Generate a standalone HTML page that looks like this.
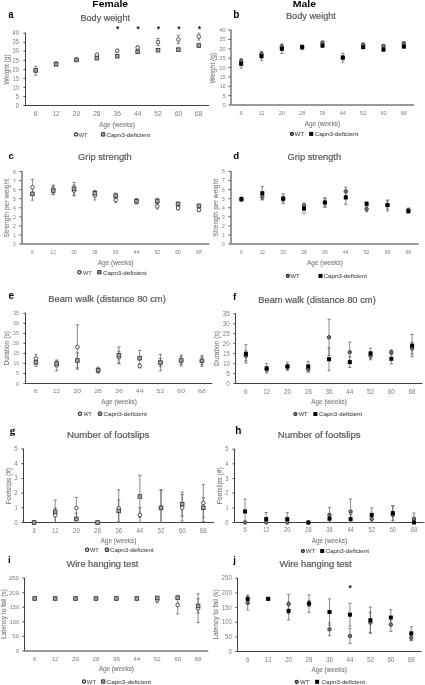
<!DOCTYPE html>
<html><head><meta charset="utf-8"><title>Figure</title>
<style>html,body{margin:0;padding:0;background:#fff;} svg{display:block;}</style>
</head><body>
<svg width="425" height="685" viewBox="0 0 425 685" font-family='"Liberation Sans", Arial, sans-serif'>
<rect width="425" height="685" fill="#fff"/>
<line x1="25.50" y1="32.70" x2="25.50" y2="106.00" stroke="#404040" stroke-width="1.0"/>
<line x1="25.00" y1="105.50" x2="209.00" y2="105.50" stroke="#404040" stroke-width="1.0"/>
<line x1="23.40" y1="105.50" x2="25.50" y2="105.50" stroke="#404040" stroke-width="0.9"/>
<text x="19.00" y="107.70" font-size="6.5" fill="#7f7f7f" text-anchor="end" textLength="3.2" lengthAdjust="spacingAndGlyphs">0</text>
<line x1="23.40" y1="96.46" x2="25.50" y2="96.46" stroke="#404040" stroke-width="0.9"/>
<text x="19.00" y="98.66" font-size="6.5" fill="#7f7f7f" text-anchor="end" textLength="3.2" lengthAdjust="spacingAndGlyphs">5</text>
<line x1="23.40" y1="87.42" x2="25.50" y2="87.42" stroke="#404040" stroke-width="0.9"/>
<text x="19.00" y="89.62" font-size="6.5" fill="#7f7f7f" text-anchor="end" textLength="5.9" lengthAdjust="spacingAndGlyphs">10</text>
<line x1="23.40" y1="78.39" x2="25.50" y2="78.39" stroke="#404040" stroke-width="0.9"/>
<text x="19.00" y="80.59" font-size="6.5" fill="#7f7f7f" text-anchor="end" textLength="5.9" lengthAdjust="spacingAndGlyphs">15</text>
<line x1="23.40" y1="69.35" x2="25.50" y2="69.35" stroke="#404040" stroke-width="0.9"/>
<text x="19.00" y="71.55" font-size="6.5" fill="#7f7f7f" text-anchor="end" textLength="6.4" lengthAdjust="spacingAndGlyphs">20</text>
<line x1="23.40" y1="60.31" x2="25.50" y2="60.31" stroke="#404040" stroke-width="0.9"/>
<text x="19.00" y="62.51" font-size="6.5" fill="#7f7f7f" text-anchor="end" textLength="6.4" lengthAdjust="spacingAndGlyphs">25</text>
<line x1="23.40" y1="51.28" x2="25.50" y2="51.28" stroke="#404040" stroke-width="0.9"/>
<text x="19.00" y="53.48" font-size="6.5" fill="#7f7f7f" text-anchor="end" textLength="6.4" lengthAdjust="spacingAndGlyphs">30</text>
<line x1="23.40" y1="42.24" x2="25.50" y2="42.24" stroke="#404040" stroke-width="0.9"/>
<text x="19.00" y="44.44" font-size="6.5" fill="#7f7f7f" text-anchor="end" textLength="6.4" lengthAdjust="spacingAndGlyphs">35</text>
<line x1="23.40" y1="33.20" x2="25.50" y2="33.20" stroke="#404040" stroke-width="0.9"/>
<text x="19.00" y="35.40" font-size="6.5" fill="#7f7f7f" text-anchor="end" textLength="6.4" lengthAdjust="spacingAndGlyphs">40</text>
<text x="35.69" y="116.10" font-size="6.3" fill="#7f7f7f" text-anchor="middle" textLength="3.7" lengthAdjust="spacingAndGlyphs">6</text>
<text x="56.08" y="116.10" font-size="6.3" fill="#7f7f7f" text-anchor="middle" textLength="6.8" lengthAdjust="spacingAndGlyphs">12</text>
<text x="76.47" y="116.10" font-size="6.3" fill="#7f7f7f" text-anchor="middle" textLength="7.4" lengthAdjust="spacingAndGlyphs">20</text>
<text x="96.86" y="116.10" font-size="6.3" fill="#7f7f7f" text-anchor="middle" textLength="7.4" lengthAdjust="spacingAndGlyphs">28</text>
<text x="117.25" y="116.10" font-size="6.3" fill="#7f7f7f" text-anchor="middle" textLength="7.4" lengthAdjust="spacingAndGlyphs">36</text>
<text x="137.64" y="116.10" font-size="6.3" fill="#7f7f7f" text-anchor="middle" textLength="7.4" lengthAdjust="spacingAndGlyphs">44</text>
<text x="158.03" y="116.10" font-size="6.3" fill="#7f7f7f" text-anchor="middle" textLength="7.4" lengthAdjust="spacingAndGlyphs">52</text>
<text x="178.42" y="116.10" font-size="6.3" fill="#7f7f7f" text-anchor="middle" textLength="7.4" lengthAdjust="spacingAndGlyphs">60</text>
<text x="198.81" y="116.10" font-size="6.3" fill="#7f7f7f" text-anchor="middle" textLength="7.4" lengthAdjust="spacingAndGlyphs">68</text>
<text transform="translate(9.30,69.40) rotate(-90)" x="0" y="0" font-size="6.5" fill="#7f7f7f" text-anchor="middle" textLength="30.0" lengthAdjust="spacingAndGlyphs" stroke="#7f7f7f" stroke-width="0.12">Weight (g)</text>
<text x="99.30" y="126.80" font-size="6.5" fill="#7f7f7f" textLength="35.5" lengthAdjust="spacingAndGlyphs" stroke="#7f7f7f" stroke-width="0.12">Age (weeks)</text>
<text x="80.50" y="21.20" font-size="9.7" fill="#595959" textLength="49.5" lengthAdjust="spacingAndGlyphs" stroke="#595959" stroke-width="0.22">Body weight</text>
<text x="8.60" y="17.60" font-size="10.8" fill="#000" font-weight="bold" textLength="5.0" lengthAdjust="spacingAndGlyphs">a</text>
<circle cx="76.00" cy="134.40" r="1.6" fill="#fff" stroke="#333" stroke-width="1.2"/>
<text x="78.80" y="136.90" font-size="6.2" fill="#595959" textLength="8.7" lengthAdjust="spacingAndGlyphs" stroke="#595959" stroke-width="0.12">WT</text>
<rect x="101.40" y="132.70" width="3.4" height="3.4" rx="0.3" fill="#9a9a9a" stroke="#333" stroke-width="1.0"/>
<text x="106.40" y="136.90" font-size="6.2" fill="#595959" textLength="43.7" lengthAdjust="spacingAndGlyphs" stroke="#595959" stroke-width="0.12">Capn3-deficient</text>
<line x1="35.69" y1="66.28" x2="35.69" y2="75.31" stroke="#595959" stroke-width="0.7"/>
<line x1="34.09" y1="66.28" x2="37.29" y2="66.28" stroke="#595959" stroke-width="0.7"/>
<line x1="34.09" y1="75.31" x2="37.29" y2="75.31" stroke="#595959" stroke-width="0.7"/>
<line x1="56.08" y1="62.12" x2="56.08" y2="65.01" stroke="#595959" stroke-width="0.7"/>
<line x1="54.48" y1="62.12" x2="57.68" y2="62.12" stroke="#595959" stroke-width="0.7"/>
<line x1="54.48" y1="65.01" x2="57.68" y2="65.01" stroke="#595959" stroke-width="0.7"/>
<line x1="76.47" y1="58.32" x2="76.47" y2="60.85" stroke="#595959" stroke-width="0.7"/>
<line x1="74.87" y1="58.32" x2="78.07" y2="58.32" stroke="#595959" stroke-width="0.7"/>
<line x1="74.87" y1="60.85" x2="78.07" y2="60.85" stroke="#595959" stroke-width="0.7"/>
<line x1="96.86" y1="53.26" x2="96.86" y2="56.16" stroke="#595959" stroke-width="0.7"/>
<line x1="95.26" y1="53.26" x2="98.46" y2="53.26" stroke="#595959" stroke-width="0.7"/>
<line x1="95.26" y1="56.16" x2="98.46" y2="56.16" stroke="#595959" stroke-width="0.7"/>
<line x1="117.25" y1="49.29" x2="117.25" y2="52.18" stroke="#595959" stroke-width="0.7"/>
<line x1="115.65" y1="49.29" x2="118.85" y2="49.29" stroke="#595959" stroke-width="0.7"/>
<line x1="115.65" y1="52.18" x2="118.85" y2="52.18" stroke="#595959" stroke-width="0.7"/>
<line x1="137.64" y1="46.03" x2="137.64" y2="49.29" stroke="#595959" stroke-width="0.7"/>
<line x1="136.04" y1="46.03" x2="139.24" y2="46.03" stroke="#595959" stroke-width="0.7"/>
<line x1="136.04" y1="49.29" x2="139.24" y2="49.29" stroke="#595959" stroke-width="0.7"/>
<line x1="158.03" y1="38.44" x2="158.03" y2="45.67" stroke="#595959" stroke-width="0.7"/>
<line x1="156.43" y1="38.44" x2="159.63" y2="38.44" stroke="#595959" stroke-width="0.7"/>
<line x1="156.43" y1="45.67" x2="159.63" y2="45.67" stroke="#595959" stroke-width="0.7"/>
<line x1="178.42" y1="35.37" x2="178.42" y2="43.68" stroke="#595959" stroke-width="0.7"/>
<line x1="176.82" y1="35.37" x2="180.02" y2="35.37" stroke="#595959" stroke-width="0.7"/>
<line x1="176.82" y1="43.68" x2="180.02" y2="43.68" stroke="#595959" stroke-width="0.7"/>
<line x1="198.81" y1="33.20" x2="198.81" y2="40.07" stroke="#595959" stroke-width="0.7"/>
<line x1="197.21" y1="33.20" x2="200.41" y2="33.20" stroke="#595959" stroke-width="0.7"/>
<line x1="197.21" y1="40.07" x2="200.41" y2="40.07" stroke="#595959" stroke-width="0.7"/>
<line x1="35.69" y1="68.45" x2="35.69" y2="72.06" stroke="#595959" stroke-width="0.7"/>
<line x1="34.09" y1="68.45" x2="37.29" y2="68.45" stroke="#595959" stroke-width="0.7"/>
<line x1="34.09" y1="72.06" x2="37.29" y2="72.06" stroke="#595959" stroke-width="0.7"/>
<line x1="56.08" y1="62.84" x2="56.08" y2="65.73" stroke="#595959" stroke-width="0.7"/>
<line x1="54.48" y1="62.84" x2="57.68" y2="62.84" stroke="#595959" stroke-width="0.7"/>
<line x1="54.48" y1="65.73" x2="57.68" y2="65.73" stroke="#595959" stroke-width="0.7"/>
<line x1="76.47" y1="58.69" x2="76.47" y2="61.22" stroke="#595959" stroke-width="0.7"/>
<line x1="74.87" y1="58.69" x2="78.07" y2="58.69" stroke="#595959" stroke-width="0.7"/>
<line x1="74.87" y1="61.22" x2="78.07" y2="61.22" stroke="#595959" stroke-width="0.7"/>
<line x1="96.86" y1="56.70" x2="96.86" y2="59.59" stroke="#595959" stroke-width="0.7"/>
<line x1="95.26" y1="56.70" x2="98.46" y2="56.70" stroke="#595959" stroke-width="0.7"/>
<line x1="95.26" y1="59.59" x2="98.46" y2="59.59" stroke="#595959" stroke-width="0.7"/>
<line x1="117.25" y1="54.71" x2="117.25" y2="57.60" stroke="#595959" stroke-width="0.7"/>
<line x1="115.65" y1="54.71" x2="118.85" y2="54.71" stroke="#595959" stroke-width="0.7"/>
<line x1="115.65" y1="57.60" x2="118.85" y2="57.60" stroke="#595959" stroke-width="0.7"/>
<line x1="137.64" y1="50.37" x2="137.64" y2="53.26" stroke="#595959" stroke-width="0.7"/>
<line x1="136.04" y1="50.37" x2="139.24" y2="50.37" stroke="#595959" stroke-width="0.7"/>
<line x1="136.04" y1="53.26" x2="139.24" y2="53.26" stroke="#595959" stroke-width="0.7"/>
<line x1="158.03" y1="48.74" x2="158.03" y2="51.64" stroke="#595959" stroke-width="0.7"/>
<line x1="156.43" y1="48.74" x2="159.63" y2="48.74" stroke="#595959" stroke-width="0.7"/>
<line x1="156.43" y1="51.64" x2="159.63" y2="51.64" stroke="#595959" stroke-width="0.7"/>
<line x1="178.42" y1="48.20" x2="178.42" y2="51.09" stroke="#595959" stroke-width="0.7"/>
<line x1="176.82" y1="48.20" x2="180.02" y2="48.20" stroke="#595959" stroke-width="0.7"/>
<line x1="176.82" y1="51.09" x2="180.02" y2="51.09" stroke="#595959" stroke-width="0.7"/>
<line x1="198.81" y1="43.68" x2="198.81" y2="47.30" stroke="#595959" stroke-width="0.7"/>
<line x1="197.21" y1="43.68" x2="200.41" y2="43.68" stroke="#595959" stroke-width="0.7"/>
<line x1="197.21" y1="47.30" x2="200.41" y2="47.30" stroke="#595959" stroke-width="0.7"/>
<circle cx="35.69" cy="70.80" r="1.80" fill="#fff" stroke="#404040" stroke-width="0.9"/>
<circle cx="56.08" cy="63.57" r="1.80" fill="#fff" stroke="#404040" stroke-width="0.9"/>
<circle cx="76.47" cy="59.59" r="1.80" fill="#fff" stroke="#404040" stroke-width="0.9"/>
<circle cx="96.86" cy="54.71" r="1.80" fill="#fff" stroke="#404040" stroke-width="0.9"/>
<circle cx="117.25" cy="50.73" r="1.80" fill="#fff" stroke="#404040" stroke-width="0.9"/>
<circle cx="137.64" cy="47.66" r="1.80" fill="#fff" stroke="#404040" stroke-width="0.9"/>
<circle cx="158.03" cy="42.06" r="1.80" fill="#fff" stroke="#404040" stroke-width="0.9"/>
<circle cx="178.42" cy="39.53" r="1.80" fill="#fff" stroke="#404040" stroke-width="0.9"/>
<circle cx="198.81" cy="36.63" r="1.80" fill="#fff" stroke="#404040" stroke-width="0.9"/>
<rect x="33.89" y="68.45" width="3.60" height="3.60" fill="#a6a6a6" stroke="#404040" stroke-width="0.9"/>
<rect x="54.28" y="62.49" width="3.60" height="3.60" fill="#a6a6a6" stroke="#404040" stroke-width="0.9"/>
<rect x="74.67" y="58.15" width="3.60" height="3.60" fill="#a6a6a6" stroke="#404040" stroke-width="0.9"/>
<rect x="95.06" y="56.34" width="3.60" height="3.60" fill="#a6a6a6" stroke="#404040" stroke-width="0.9"/>
<rect x="115.45" y="54.36" width="3.60" height="3.60" fill="#a6a6a6" stroke="#404040" stroke-width="0.9"/>
<rect x="135.84" y="50.02" width="3.60" height="3.60" fill="#a6a6a6" stroke="#404040" stroke-width="0.9"/>
<rect x="156.23" y="48.39" width="3.60" height="3.60" fill="#a6a6a6" stroke="#404040" stroke-width="0.9"/>
<rect x="176.62" y="47.85" width="3.60" height="3.60" fill="#a6a6a6" stroke="#404040" stroke-width="0.9"/>
<rect x="197.01" y="43.69" width="3.60" height="3.60" fill="#a6a6a6" stroke="#404040" stroke-width="0.9"/>
<text x="117.70" y="31.50" font-size="8.5" fill="#1a1a1a" text-anchor="middle" font-weight="bold">*</text>
<text x="138.10" y="31.50" font-size="8.5" fill="#1a1a1a" text-anchor="middle" font-weight="bold">*</text>
<text x="158.50" y="31.50" font-size="8.5" fill="#1a1a1a" text-anchor="middle" font-weight="bold">*</text>
<text x="178.90" y="31.50" font-size="8.5" fill="#1a1a1a" text-anchor="middle" font-weight="bold">*</text>
<text x="199.30" y="31.50" font-size="8.5" fill="#1a1a1a" text-anchor="middle" font-weight="bold">*</text>
<line x1="231.00" y1="29.60" x2="231.00" y2="105.50" stroke="#999999" stroke-width="2.0"/>
<line x1="230.50" y1="105.00" x2="414.00" y2="105.00" stroke="#999999" stroke-width="2.0"/>
<line x1="228.40" y1="105.00" x2="230.50" y2="105.00" stroke="#404040" stroke-width="0.9"/>
<text x="225.60" y="107.00" font-size="6.0" fill="#7f7f7f" text-anchor="end" textLength="3.2" lengthAdjust="spacingAndGlyphs">0</text>
<line x1="228.40" y1="95.64" x2="230.50" y2="95.64" stroke="#404040" stroke-width="0.9"/>
<text x="225.60" y="97.64" font-size="6.0" fill="#7f7f7f" text-anchor="end" textLength="3.2" lengthAdjust="spacingAndGlyphs">5</text>
<line x1="228.40" y1="86.28" x2="230.50" y2="86.28" stroke="#404040" stroke-width="0.9"/>
<text x="225.60" y="88.28" font-size="6.0" fill="#7f7f7f" text-anchor="end" textLength="5.9" lengthAdjust="spacingAndGlyphs">10</text>
<line x1="228.40" y1="76.91" x2="230.50" y2="76.91" stroke="#404040" stroke-width="0.9"/>
<text x="225.60" y="78.91" font-size="6.0" fill="#7f7f7f" text-anchor="end" textLength="5.9" lengthAdjust="spacingAndGlyphs">15</text>
<line x1="228.40" y1="67.55" x2="230.50" y2="67.55" stroke="#404040" stroke-width="0.9"/>
<text x="225.60" y="69.55" font-size="6.0" fill="#7f7f7f" text-anchor="end" textLength="6.3" lengthAdjust="spacingAndGlyphs">20</text>
<line x1="228.40" y1="58.19" x2="230.50" y2="58.19" stroke="#404040" stroke-width="0.9"/>
<text x="225.60" y="60.19" font-size="6.0" fill="#7f7f7f" text-anchor="end" textLength="6.3" lengthAdjust="spacingAndGlyphs">25</text>
<line x1="228.40" y1="48.82" x2="230.50" y2="48.82" stroke="#404040" stroke-width="0.9"/>
<text x="225.60" y="50.82" font-size="6.0" fill="#7f7f7f" text-anchor="end" textLength="6.3" lengthAdjust="spacingAndGlyphs">30</text>
<line x1="228.40" y1="39.46" x2="230.50" y2="39.46" stroke="#404040" stroke-width="0.9"/>
<text x="225.60" y="41.46" font-size="6.0" fill="#7f7f7f" text-anchor="end" textLength="6.3" lengthAdjust="spacingAndGlyphs">35</text>
<line x1="228.40" y1="30.10" x2="230.50" y2="30.10" stroke="#404040" stroke-width="0.9"/>
<text x="225.60" y="32.10" font-size="6.0" fill="#7f7f7f" text-anchor="end" textLength="6.3" lengthAdjust="spacingAndGlyphs">40</text>
<text x="241.17" y="115.20" font-size="6.0" fill="#7f7f7f" text-anchor="middle" textLength="3.1" lengthAdjust="spacingAndGlyphs">6</text>
<text x="261.50" y="115.20" font-size="6.0" fill="#7f7f7f" text-anchor="middle" textLength="5.7" lengthAdjust="spacingAndGlyphs">12</text>
<text x="281.83" y="115.20" font-size="6.0" fill="#7f7f7f" text-anchor="middle" textLength="6.1" lengthAdjust="spacingAndGlyphs">20</text>
<text x="302.17" y="115.20" font-size="6.0" fill="#7f7f7f" text-anchor="middle" textLength="6.1" lengthAdjust="spacingAndGlyphs">28</text>
<text x="322.50" y="115.20" font-size="6.0" fill="#7f7f7f" text-anchor="middle" textLength="6.1" lengthAdjust="spacingAndGlyphs">36</text>
<text x="342.83" y="115.20" font-size="6.0" fill="#7f7f7f" text-anchor="middle" textLength="6.1" lengthAdjust="spacingAndGlyphs">44</text>
<text x="363.17" y="115.20" font-size="6.0" fill="#7f7f7f" text-anchor="middle" textLength="6.1" lengthAdjust="spacingAndGlyphs">52</text>
<text x="383.50" y="115.20" font-size="6.0" fill="#7f7f7f" text-anchor="middle" textLength="6.1" lengthAdjust="spacingAndGlyphs">60</text>
<text x="403.83" y="115.20" font-size="6.0" fill="#7f7f7f" text-anchor="middle" textLength="6.1" lengthAdjust="spacingAndGlyphs">68</text>
<text transform="translate(215.30,68.00) rotate(-90)" x="0" y="0" font-size="6.5" fill="#7f7f7f" text-anchor="middle" textLength="30.4" lengthAdjust="spacingAndGlyphs" stroke="#7f7f7f" stroke-width="0.12">Weight (g)</text>
<text x="304.80" y="125.50" font-size="6.5" fill="#7f7f7f" textLength="35.3" lengthAdjust="spacingAndGlyphs" stroke="#7f7f7f" stroke-width="0.12">Age (weeks)</text>
<text x="286.00" y="18.80" font-size="9.7" fill="#595959" textLength="49.9" lengthAdjust="spacingAndGlyphs" stroke="#595959" stroke-width="0.22">Body weight</text>
<text x="233.30" y="17.90" font-size="10" fill="#000" font-weight="bold">b</text>
<circle cx="291.90" cy="133.90" r="1.55" fill="#7f7f7f" stroke="#262626" stroke-width="1.1"/>
<text x="294.70" y="136.00" font-size="5.5" fill="#595959" textLength="9.4" lengthAdjust="spacingAndGlyphs" stroke="#595959" stroke-width="0.12">WT</text>
<rect x="309.20" y="131.90" width="4.0" height="4.0" fill="#000"/>
<text x="314.70" y="136.00" font-size="5.5" fill="#595959" textLength="43.5" lengthAdjust="spacingAndGlyphs" stroke="#595959" stroke-width="0.12">Capn3-deficient</text>
<line x1="241.17" y1="58.56" x2="241.17" y2="64.18" stroke="#595959" stroke-width="0.7"/>
<line x1="239.57" y1="58.56" x2="242.77" y2="58.56" stroke="#595959" stroke-width="0.7"/>
<line x1="239.57" y1="64.18" x2="242.77" y2="64.18" stroke="#595959" stroke-width="0.7"/>
<line x1="261.50" y1="51.26" x2="261.50" y2="56.88" stroke="#595959" stroke-width="0.7"/>
<line x1="259.90" y1="51.26" x2="263.10" y2="51.26" stroke="#595959" stroke-width="0.7"/>
<line x1="259.90" y1="56.88" x2="263.10" y2="56.88" stroke="#595959" stroke-width="0.7"/>
<line x1="281.83" y1="44.14" x2="281.83" y2="49.76" stroke="#595959" stroke-width="0.7"/>
<line x1="280.23" y1="44.14" x2="283.43" y2="44.14" stroke="#595959" stroke-width="0.7"/>
<line x1="280.23" y1="49.76" x2="283.43" y2="49.76" stroke="#595959" stroke-width="0.7"/>
<line x1="302.17" y1="45.83" x2="302.17" y2="49.57" stroke="#595959" stroke-width="0.7"/>
<line x1="300.57" y1="45.83" x2="303.77" y2="45.83" stroke="#595959" stroke-width="0.7"/>
<line x1="300.57" y1="49.57" x2="303.77" y2="49.57" stroke="#595959" stroke-width="0.7"/>
<line x1="322.50" y1="41.15" x2="322.50" y2="44.14" stroke="#595959" stroke-width="0.7"/>
<line x1="320.90" y1="41.15" x2="324.10" y2="41.15" stroke="#595959" stroke-width="0.7"/>
<line x1="320.90" y1="44.14" x2="324.10" y2="44.14" stroke="#595959" stroke-width="0.7"/>
<line x1="342.83" y1="55.75" x2="342.83" y2="59.50" stroke="#595959" stroke-width="0.7"/>
<line x1="341.23" y1="55.75" x2="344.43" y2="55.75" stroke="#595959" stroke-width="0.7"/>
<line x1="341.23" y1="59.50" x2="344.43" y2="59.50" stroke="#595959" stroke-width="0.7"/>
<line x1="363.17" y1="43.21" x2="363.17" y2="46.20" stroke="#595959" stroke-width="0.7"/>
<line x1="361.57" y1="43.21" x2="364.77" y2="43.21" stroke="#595959" stroke-width="0.7"/>
<line x1="361.57" y1="46.20" x2="364.77" y2="46.20" stroke="#595959" stroke-width="0.7"/>
<line x1="383.50" y1="44.52" x2="383.50" y2="47.51" stroke="#595959" stroke-width="0.7"/>
<line x1="381.90" y1="44.52" x2="385.10" y2="44.52" stroke="#595959" stroke-width="0.7"/>
<line x1="381.90" y1="47.51" x2="385.10" y2="47.51" stroke="#595959" stroke-width="0.7"/>
<line x1="403.83" y1="41.71" x2="403.83" y2="45.08" stroke="#595959" stroke-width="0.7"/>
<line x1="402.23" y1="41.71" x2="405.43" y2="41.71" stroke="#595959" stroke-width="0.7"/>
<line x1="402.23" y1="45.08" x2="405.43" y2="45.08" stroke="#595959" stroke-width="0.7"/>
<line x1="241.17" y1="59.50" x2="241.17" y2="68.11" stroke="#595959" stroke-width="0.7"/>
<line x1="239.57" y1="59.50" x2="242.77" y2="59.50" stroke="#595959" stroke-width="0.7"/>
<line x1="239.57" y1="68.11" x2="242.77" y2="68.11" stroke="#595959" stroke-width="0.7"/>
<line x1="261.50" y1="52.01" x2="261.50" y2="60.62" stroke="#595959" stroke-width="0.7"/>
<line x1="259.90" y1="52.01" x2="263.10" y2="52.01" stroke="#595959" stroke-width="0.7"/>
<line x1="259.90" y1="60.62" x2="263.10" y2="60.62" stroke="#595959" stroke-width="0.7"/>
<line x1="281.83" y1="44.14" x2="281.83" y2="53.51" stroke="#595959" stroke-width="0.7"/>
<line x1="280.23" y1="44.14" x2="283.43" y2="44.14" stroke="#595959" stroke-width="0.7"/>
<line x1="280.23" y1="53.51" x2="283.43" y2="53.51" stroke="#595959" stroke-width="0.7"/>
<line x1="302.17" y1="45.08" x2="302.17" y2="48.82" stroke="#595959" stroke-width="0.7"/>
<line x1="300.57" y1="45.08" x2="303.77" y2="45.08" stroke="#595959" stroke-width="0.7"/>
<line x1="300.57" y1="48.82" x2="303.77" y2="48.82" stroke="#595959" stroke-width="0.7"/>
<line x1="322.50" y1="44.14" x2="322.50" y2="47.14" stroke="#595959" stroke-width="0.7"/>
<line x1="320.90" y1="44.14" x2="324.10" y2="44.14" stroke="#595959" stroke-width="0.7"/>
<line x1="320.90" y1="47.14" x2="324.10" y2="47.14" stroke="#595959" stroke-width="0.7"/>
<line x1="342.83" y1="53.13" x2="342.83" y2="62.12" stroke="#595959" stroke-width="0.7"/>
<line x1="341.23" y1="53.13" x2="344.43" y2="53.13" stroke="#595959" stroke-width="0.7"/>
<line x1="341.23" y1="62.12" x2="344.43" y2="62.12" stroke="#595959" stroke-width="0.7"/>
<line x1="363.17" y1="45.64" x2="363.17" y2="48.64" stroke="#595959" stroke-width="0.7"/>
<line x1="361.57" y1="45.64" x2="364.77" y2="45.64" stroke="#595959" stroke-width="0.7"/>
<line x1="361.57" y1="48.64" x2="364.77" y2="48.64" stroke="#595959" stroke-width="0.7"/>
<line x1="383.50" y1="48.08" x2="383.50" y2="51.07" stroke="#595959" stroke-width="0.7"/>
<line x1="381.90" y1="48.08" x2="385.10" y2="48.08" stroke="#595959" stroke-width="0.7"/>
<line x1="381.90" y1="51.07" x2="385.10" y2="51.07" stroke="#595959" stroke-width="0.7"/>
<line x1="403.83" y1="45.08" x2="403.83" y2="48.08" stroke="#595959" stroke-width="0.7"/>
<line x1="402.23" y1="45.08" x2="405.43" y2="45.08" stroke="#595959" stroke-width="0.7"/>
<line x1="402.23" y1="48.08" x2="405.43" y2="48.08" stroke="#595959" stroke-width="0.7"/>
<circle cx="241.17" cy="61.37" r="1.72" fill="#7a7a7a" stroke="#333" stroke-width="0.95"/>
<circle cx="261.50" cy="54.07" r="1.72" fill="#7a7a7a" stroke="#333" stroke-width="0.95"/>
<circle cx="281.83" cy="46.95" r="1.72" fill="#7a7a7a" stroke="#333" stroke-width="0.95"/>
<circle cx="302.17" cy="47.70" r="1.72" fill="#7a7a7a" stroke="#333" stroke-width="0.95"/>
<circle cx="322.50" cy="42.65" r="1.72" fill="#7a7a7a" stroke="#333" stroke-width="0.95"/>
<circle cx="342.83" cy="57.63" r="1.72" fill="#7a7a7a" stroke="#333" stroke-width="0.95"/>
<circle cx="363.17" cy="44.71" r="1.72" fill="#7a7a7a" stroke="#333" stroke-width="0.95"/>
<circle cx="383.50" cy="46.02" r="1.72" fill="#7a7a7a" stroke="#333" stroke-width="0.95"/>
<circle cx="403.83" cy="43.39" r="1.72" fill="#7a7a7a" stroke="#333" stroke-width="0.95"/>
<rect x="239.17" y="61.80" width="4.0" height="4.0" fill="#000"/>
<rect x="259.50" y="54.31" width="4.0" height="4.0" fill="#000"/>
<rect x="279.83" y="46.82" width="4.0" height="4.0" fill="#000"/>
<rect x="300.17" y="44.95" width="4.0" height="4.0" fill="#000"/>
<rect x="320.50" y="43.64" width="4.0" height="4.0" fill="#000"/>
<rect x="340.83" y="55.63" width="4.0" height="4.0" fill="#000"/>
<rect x="361.17" y="45.14" width="4.0" height="4.0" fill="#000"/>
<rect x="381.50" y="47.57" width="4.0" height="4.0" fill="#000"/>
<rect x="401.83" y="44.58" width="4.0" height="4.0" fill="#000"/>
<line x1="22.00" y1="171.00" x2="22.00" y2="244.50" stroke="#999999" stroke-width="2.0"/>
<line x1="21.50" y1="244.00" x2="209.30" y2="244.00" stroke="#999999" stroke-width="2.0"/>
<line x1="19.40" y1="244.00" x2="21.50" y2="244.00" stroke="#404040" stroke-width="0.9"/>
<text x="15.80" y="246.00" font-size="6.0" fill="#7f7f7f" text-anchor="end" textLength="2.8" lengthAdjust="spacingAndGlyphs">0</text>
<line x1="19.40" y1="234.94" x2="21.50" y2="234.94" stroke="#404040" stroke-width="0.9"/>
<text x="15.80" y="236.94" font-size="6.0" fill="#7f7f7f" text-anchor="end" textLength="2.4" lengthAdjust="spacingAndGlyphs">1</text>
<line x1="19.40" y1="225.88" x2="21.50" y2="225.88" stroke="#404040" stroke-width="0.9"/>
<text x="15.80" y="227.88" font-size="6.0" fill="#7f7f7f" text-anchor="end" textLength="2.8" lengthAdjust="spacingAndGlyphs">2</text>
<line x1="19.40" y1="216.81" x2="21.50" y2="216.81" stroke="#404040" stroke-width="0.9"/>
<text x="15.80" y="218.81" font-size="6.0" fill="#7f7f7f" text-anchor="end" textLength="2.8" lengthAdjust="spacingAndGlyphs">3</text>
<line x1="19.40" y1="207.75" x2="21.50" y2="207.75" stroke="#404040" stroke-width="0.9"/>
<text x="15.80" y="209.75" font-size="6.0" fill="#7f7f7f" text-anchor="end" textLength="2.8" lengthAdjust="spacingAndGlyphs">4</text>
<line x1="19.40" y1="198.69" x2="21.50" y2="198.69" stroke="#404040" stroke-width="0.9"/>
<text x="15.80" y="200.69" font-size="6.0" fill="#7f7f7f" text-anchor="end" textLength="2.8" lengthAdjust="spacingAndGlyphs">5</text>
<line x1="19.40" y1="189.62" x2="21.50" y2="189.62" stroke="#404040" stroke-width="0.9"/>
<text x="15.80" y="191.62" font-size="6.0" fill="#7f7f7f" text-anchor="end" textLength="2.8" lengthAdjust="spacingAndGlyphs">6</text>
<line x1="19.40" y1="180.56" x2="21.50" y2="180.56" stroke="#404040" stroke-width="0.9"/>
<text x="15.80" y="182.56" font-size="6.0" fill="#7f7f7f" text-anchor="end" textLength="2.8" lengthAdjust="spacingAndGlyphs">7</text>
<line x1="19.40" y1="171.50" x2="21.50" y2="171.50" stroke="#404040" stroke-width="0.9"/>
<text x="15.80" y="173.50" font-size="6.0" fill="#7f7f7f" text-anchor="end" textLength="2.8" lengthAdjust="spacingAndGlyphs">8</text>
<text x="32.41" y="253.80" font-size="6.0" fill="#7f7f7f" text-anchor="middle" textLength="2.8" lengthAdjust="spacingAndGlyphs">6</text>
<text x="53.22" y="253.80" font-size="6.0" fill="#7f7f7f" text-anchor="middle" textLength="5.2" lengthAdjust="spacingAndGlyphs">12</text>
<text x="74.03" y="253.80" font-size="6.0" fill="#7f7f7f" text-anchor="middle" textLength="5.7" lengthAdjust="spacingAndGlyphs">20</text>
<text x="94.84" y="253.80" font-size="6.0" fill="#7f7f7f" text-anchor="middle" textLength="5.7" lengthAdjust="spacingAndGlyphs">28</text>
<text x="115.65" y="253.80" font-size="6.0" fill="#7f7f7f" text-anchor="middle" textLength="5.7" lengthAdjust="spacingAndGlyphs">36</text>
<text x="136.46" y="253.80" font-size="6.0" fill="#7f7f7f" text-anchor="middle" textLength="5.7" lengthAdjust="spacingAndGlyphs">44</text>
<text x="157.27" y="253.80" font-size="6.0" fill="#7f7f7f" text-anchor="middle" textLength="5.7" lengthAdjust="spacingAndGlyphs">52</text>
<text x="178.08" y="253.80" font-size="6.0" fill="#7f7f7f" text-anchor="middle" textLength="5.7" lengthAdjust="spacingAndGlyphs">60</text>
<text x="198.89" y="253.80" font-size="6.0" fill="#7f7f7f" text-anchor="middle" textLength="5.7" lengthAdjust="spacingAndGlyphs">68</text>
<text transform="translate(9.20,208.20) rotate(-90)" x="0" y="0" font-size="6.6" fill="#7f7f7f" text-anchor="middle" textLength="58.5" lengthAdjust="spacingAndGlyphs" stroke="#7f7f7f" stroke-width="0.12">Strength per weight</text>
<text x="97.80" y="265.00" font-size="6.5" fill="#7f7f7f" textLength="35.7" lengthAdjust="spacingAndGlyphs" stroke="#7f7f7f" stroke-width="0.12">Age (weeks)</text>
<text x="78.10" y="160.30" font-size="9.7" fill="#595959" textLength="53.7" lengthAdjust="spacingAndGlyphs" stroke="#595959" stroke-width="0.22">Grip strength</text>
<text x="8.50" y="158.80" font-size="9.6" fill="#000" font-weight="bold">c</text>
<circle cx="79.40" cy="272.20" r="1.6" fill="#fff" stroke="#333" stroke-width="1.2"/>
<text x="83.00" y="274.70" font-size="6.2" fill="#595959" textLength="8.6" lengthAdjust="spacingAndGlyphs" stroke="#595959" stroke-width="0.12">WT</text>
<rect x="97.70" y="270.50" width="3.4" height="3.4" rx="0.3" fill="#9a9a9a" stroke="#333" stroke-width="1.0"/>
<text x="103.00" y="274.70" font-size="6.2" fill="#595959" textLength="43.5" lengthAdjust="spacingAndGlyphs" stroke="#595959" stroke-width="0.12">Capn3-deficient</text>
<line x1="32.41" y1="179.47" x2="32.41" y2="195.24" stroke="#595959" stroke-width="0.7"/>
<line x1="30.81" y1="179.47" x2="34.01" y2="179.47" stroke="#595959" stroke-width="0.7"/>
<line x1="30.81" y1="195.24" x2="34.01" y2="195.24" stroke="#595959" stroke-width="0.7"/>
<line x1="53.22" y1="185.09" x2="53.22" y2="194.16" stroke="#595959" stroke-width="0.7"/>
<line x1="51.62" y1="185.09" x2="54.82" y2="185.09" stroke="#595959" stroke-width="0.7"/>
<line x1="51.62" y1="194.16" x2="54.82" y2="194.16" stroke="#595959" stroke-width="0.7"/>
<line x1="74.03" y1="185.09" x2="74.03" y2="195.97" stroke="#595959" stroke-width="0.7"/>
<line x1="72.43" y1="185.09" x2="75.63" y2="185.09" stroke="#595959" stroke-width="0.7"/>
<line x1="72.43" y1="195.97" x2="75.63" y2="195.97" stroke="#595959" stroke-width="0.7"/>
<line x1="94.84" y1="190.98" x2="94.84" y2="200.05" stroke="#595959" stroke-width="0.7"/>
<line x1="93.24" y1="190.98" x2="96.44" y2="190.98" stroke="#595959" stroke-width="0.7"/>
<line x1="93.24" y1="200.05" x2="96.44" y2="200.05" stroke="#595959" stroke-width="0.7"/>
<line x1="115.65" y1="197.33" x2="115.65" y2="202.77" stroke="#595959" stroke-width="0.7"/>
<line x1="114.05" y1="197.33" x2="117.25" y2="197.33" stroke="#595959" stroke-width="0.7"/>
<line x1="114.05" y1="202.77" x2="117.25" y2="202.77" stroke="#595959" stroke-width="0.7"/>
<line x1="136.46" y1="198.51" x2="136.46" y2="203.94" stroke="#595959" stroke-width="0.7"/>
<line x1="134.86" y1="198.51" x2="138.06" y2="198.51" stroke="#595959" stroke-width="0.7"/>
<line x1="134.86" y1="203.94" x2="138.06" y2="203.94" stroke="#595959" stroke-width="0.7"/>
<line x1="157.27" y1="203.67" x2="157.27" y2="209.11" stroke="#595959" stroke-width="0.7"/>
<line x1="155.67" y1="203.67" x2="158.87" y2="203.67" stroke="#595959" stroke-width="0.7"/>
<line x1="155.67" y1="209.11" x2="158.87" y2="209.11" stroke="#595959" stroke-width="0.7"/>
<line x1="178.08" y1="206.21" x2="178.08" y2="209.83" stroke="#595959" stroke-width="0.7"/>
<line x1="176.48" y1="206.21" x2="179.68" y2="206.21" stroke="#595959" stroke-width="0.7"/>
<line x1="176.48" y1="209.83" x2="179.68" y2="209.83" stroke="#595959" stroke-width="0.7"/>
<line x1="198.89" y1="208.02" x2="198.89" y2="211.65" stroke="#595959" stroke-width="0.7"/>
<line x1="197.29" y1="208.02" x2="200.49" y2="208.02" stroke="#595959" stroke-width="0.7"/>
<line x1="197.29" y1="211.65" x2="200.49" y2="211.65" stroke="#595959" stroke-width="0.7"/>
<line x1="32.41" y1="187.54" x2="32.41" y2="200.23" stroke="#595959" stroke-width="0.7"/>
<line x1="30.81" y1="187.54" x2="34.01" y2="187.54" stroke="#595959" stroke-width="0.7"/>
<line x1="30.81" y1="200.23" x2="34.01" y2="200.23" stroke="#595959" stroke-width="0.7"/>
<line x1="53.22" y1="186.45" x2="53.22" y2="194.61" stroke="#595959" stroke-width="0.7"/>
<line x1="51.62" y1="186.45" x2="54.82" y2="186.45" stroke="#595959" stroke-width="0.7"/>
<line x1="51.62" y1="194.61" x2="54.82" y2="194.61" stroke="#595959" stroke-width="0.7"/>
<line x1="74.03" y1="182.38" x2="74.03" y2="195.06" stroke="#595959" stroke-width="0.7"/>
<line x1="72.43" y1="182.38" x2="75.63" y2="182.38" stroke="#595959" stroke-width="0.7"/>
<line x1="72.43" y1="195.06" x2="75.63" y2="195.06" stroke="#595959" stroke-width="0.7"/>
<line x1="94.84" y1="190.53" x2="94.84" y2="195.97" stroke="#595959" stroke-width="0.7"/>
<line x1="93.24" y1="190.53" x2="96.44" y2="190.53" stroke="#595959" stroke-width="0.7"/>
<line x1="93.24" y1="195.97" x2="96.44" y2="195.97" stroke="#595959" stroke-width="0.7"/>
<line x1="115.65" y1="193.07" x2="115.65" y2="198.51" stroke="#595959" stroke-width="0.7"/>
<line x1="114.05" y1="193.07" x2="117.25" y2="193.07" stroke="#595959" stroke-width="0.7"/>
<line x1="114.05" y1="198.51" x2="117.25" y2="198.51" stroke="#595959" stroke-width="0.7"/>
<line x1="136.46" y1="199.41" x2="136.46" y2="203.04" stroke="#595959" stroke-width="0.7"/>
<line x1="134.86" y1="199.41" x2="138.06" y2="199.41" stroke="#595959" stroke-width="0.7"/>
<line x1="134.86" y1="203.04" x2="138.06" y2="203.04" stroke="#595959" stroke-width="0.7"/>
<line x1="157.27" y1="198.32" x2="157.27" y2="203.76" stroke="#595959" stroke-width="0.7"/>
<line x1="155.67" y1="198.32" x2="158.87" y2="198.32" stroke="#595959" stroke-width="0.7"/>
<line x1="155.67" y1="203.76" x2="158.87" y2="203.76" stroke="#595959" stroke-width="0.7"/>
<line x1="178.08" y1="202.13" x2="178.08" y2="205.76" stroke="#595959" stroke-width="0.7"/>
<line x1="176.48" y1="202.13" x2="179.68" y2="202.13" stroke="#595959" stroke-width="0.7"/>
<line x1="176.48" y1="205.76" x2="179.68" y2="205.76" stroke="#595959" stroke-width="0.7"/>
<line x1="198.89" y1="204.12" x2="198.89" y2="207.75" stroke="#595959" stroke-width="0.7"/>
<line x1="197.29" y1="204.12" x2="200.49" y2="204.12" stroke="#595959" stroke-width="0.7"/>
<line x1="197.29" y1="207.75" x2="200.49" y2="207.75" stroke="#595959" stroke-width="0.7"/>
<circle cx="32.41" cy="187.36" r="1.80" fill="#fff" stroke="#404040" stroke-width="0.9"/>
<circle cx="53.22" cy="189.62" r="1.80" fill="#fff" stroke="#404040" stroke-width="0.9"/>
<circle cx="74.03" cy="190.53" r="1.80" fill="#fff" stroke="#404040" stroke-width="0.9"/>
<circle cx="94.84" cy="195.52" r="1.80" fill="#fff" stroke="#404040" stroke-width="0.9"/>
<circle cx="115.65" cy="200.05" r="1.80" fill="#fff" stroke="#404040" stroke-width="0.9"/>
<circle cx="136.46" cy="201.22" r="1.80" fill="#fff" stroke="#404040" stroke-width="0.9"/>
<circle cx="157.27" cy="206.39" r="1.80" fill="#fff" stroke="#404040" stroke-width="0.9"/>
<circle cx="178.08" cy="208.02" r="1.80" fill="#fff" stroke="#404040" stroke-width="0.9"/>
<circle cx="198.89" cy="209.83" r="1.80" fill="#fff" stroke="#404040" stroke-width="0.9"/>
<rect x="30.61" y="192.08" width="3.60" height="3.60" fill="#a6a6a6" stroke="#404040" stroke-width="0.9"/>
<rect x="51.42" y="188.73" width="3.60" height="3.60" fill="#a6a6a6" stroke="#404040" stroke-width="0.9"/>
<rect x="72.23" y="186.92" width="3.60" height="3.60" fill="#a6a6a6" stroke="#404040" stroke-width="0.9"/>
<rect x="93.04" y="191.45" width="3.60" height="3.60" fill="#a6a6a6" stroke="#404040" stroke-width="0.9"/>
<rect x="113.85" y="193.99" width="3.60" height="3.60" fill="#a6a6a6" stroke="#404040" stroke-width="0.9"/>
<rect x="134.66" y="199.43" width="3.60" height="3.60" fill="#a6a6a6" stroke="#404040" stroke-width="0.9"/>
<rect x="155.47" y="199.24" width="3.60" height="3.60" fill="#a6a6a6" stroke="#404040" stroke-width="0.9"/>
<rect x="176.28" y="202.14" width="3.60" height="3.60" fill="#a6a6a6" stroke="#404040" stroke-width="0.9"/>
<rect x="197.09" y="204.14" width="3.60" height="3.60" fill="#a6a6a6" stroke="#404040" stroke-width="0.9"/>
<line x1="231.00" y1="170.90" x2="231.00" y2="244.50" stroke="#999999" stroke-width="2.0"/>
<line x1="230.50" y1="244.00" x2="418.80" y2="244.00" stroke="#999999" stroke-width="2.0"/>
<line x1="228.40" y1="244.00" x2="230.50" y2="244.00" stroke="#404040" stroke-width="0.9"/>
<text x="224.90" y="246.00" font-size="6.0" fill="#7f7f7f" text-anchor="end" textLength="2.8" lengthAdjust="spacingAndGlyphs">0</text>
<line x1="228.40" y1="234.93" x2="230.50" y2="234.93" stroke="#404040" stroke-width="0.9"/>
<text x="224.90" y="236.93" font-size="6.0" fill="#7f7f7f" text-anchor="end" textLength="2.4" lengthAdjust="spacingAndGlyphs">1</text>
<line x1="228.40" y1="225.85" x2="230.50" y2="225.85" stroke="#404040" stroke-width="0.9"/>
<text x="224.90" y="227.85" font-size="6.0" fill="#7f7f7f" text-anchor="end" textLength="2.8" lengthAdjust="spacingAndGlyphs">2</text>
<line x1="228.40" y1="216.78" x2="230.50" y2="216.78" stroke="#404040" stroke-width="0.9"/>
<text x="224.90" y="218.78" font-size="6.0" fill="#7f7f7f" text-anchor="end" textLength="2.8" lengthAdjust="spacingAndGlyphs">3</text>
<line x1="228.40" y1="207.70" x2="230.50" y2="207.70" stroke="#404040" stroke-width="0.9"/>
<text x="224.90" y="209.70" font-size="6.0" fill="#7f7f7f" text-anchor="end" textLength="2.8" lengthAdjust="spacingAndGlyphs">4</text>
<line x1="228.40" y1="198.62" x2="230.50" y2="198.62" stroke="#404040" stroke-width="0.9"/>
<text x="224.90" y="200.62" font-size="6.0" fill="#7f7f7f" text-anchor="end" textLength="2.8" lengthAdjust="spacingAndGlyphs">5</text>
<line x1="228.40" y1="189.55" x2="230.50" y2="189.55" stroke="#404040" stroke-width="0.9"/>
<text x="224.90" y="191.55" font-size="6.0" fill="#7f7f7f" text-anchor="end" textLength="2.8" lengthAdjust="spacingAndGlyphs">6</text>
<line x1="228.40" y1="180.48" x2="230.50" y2="180.48" stroke="#404040" stroke-width="0.9"/>
<text x="224.90" y="182.48" font-size="6.0" fill="#7f7f7f" text-anchor="end" textLength="2.8" lengthAdjust="spacingAndGlyphs">7</text>
<line x1="228.40" y1="171.40" x2="230.50" y2="171.40" stroke="#404040" stroke-width="0.9"/>
<text x="224.90" y="173.40" font-size="6.0" fill="#7f7f7f" text-anchor="end" textLength="2.8" lengthAdjust="spacingAndGlyphs">8</text>
<text x="241.43" y="254.30" font-size="6.0" fill="#7f7f7f" text-anchor="middle" textLength="2.8" lengthAdjust="spacingAndGlyphs">6</text>
<text x="262.30" y="254.30" font-size="6.0" fill="#7f7f7f" text-anchor="middle" textLength="5.2" lengthAdjust="spacingAndGlyphs">12</text>
<text x="283.17" y="254.30" font-size="6.0" fill="#7f7f7f" text-anchor="middle" textLength="5.7" lengthAdjust="spacingAndGlyphs">20</text>
<text x="304.03" y="254.30" font-size="6.0" fill="#7f7f7f" text-anchor="middle" textLength="5.7" lengthAdjust="spacingAndGlyphs">28</text>
<text x="324.90" y="254.30" font-size="6.0" fill="#7f7f7f" text-anchor="middle" textLength="5.7" lengthAdjust="spacingAndGlyphs">36</text>
<text x="345.77" y="254.30" font-size="6.0" fill="#7f7f7f" text-anchor="middle" textLength="5.7" lengthAdjust="spacingAndGlyphs">44</text>
<text x="366.63" y="254.30" font-size="6.0" fill="#7f7f7f" text-anchor="middle" textLength="5.7" lengthAdjust="spacingAndGlyphs">52</text>
<text x="387.50" y="254.30" font-size="6.0" fill="#7f7f7f" text-anchor="middle" textLength="5.7" lengthAdjust="spacingAndGlyphs">60</text>
<text x="408.37" y="254.30" font-size="6.0" fill="#7f7f7f" text-anchor="middle" textLength="5.7" lengthAdjust="spacingAndGlyphs">68</text>
<text transform="translate(217.80,207.80) rotate(-90)" x="0" y="0" font-size="6.6" fill="#7f7f7f" text-anchor="middle" textLength="57.8" lengthAdjust="spacingAndGlyphs" stroke="#7f7f7f" stroke-width="0.12">Strength per weight</text>
<text x="307.00" y="264.70" font-size="6.5" fill="#7f7f7f" textLength="36.0" lengthAdjust="spacingAndGlyphs" stroke="#7f7f7f" stroke-width="0.12">Age (weeks)</text>
<text x="287.60" y="159.80" font-size="9.7" fill="#595959" textLength="53.5" lengthAdjust="spacingAndGlyphs" stroke="#595959" stroke-width="0.22">Grip strength</text>
<text x="233.30" y="158.70" font-size="9.7" fill="#000" font-weight="bold">d</text>
<circle cx="287.80" cy="275.90" r="1.55" fill="#7f7f7f" stroke="#262626" stroke-width="1.1"/>
<text x="290.60" y="278.00" font-size="5.5" fill="#595959" textLength="9.0" lengthAdjust="spacingAndGlyphs" stroke="#595959" stroke-width="0.12">WT</text>
<rect x="318.50" y="273.90" width="4.0" height="4.0" fill="#000"/>
<text x="323.50" y="278.00" font-size="5.5" fill="#595959" textLength="43.5" lengthAdjust="spacingAndGlyphs" stroke="#595959" stroke-width="0.12">Capn3-deficient</text>
<line x1="241.43" y1="197.72" x2="241.43" y2="201.35" stroke="#595959" stroke-width="0.7"/>
<line x1="239.83" y1="197.72" x2="243.03" y2="197.72" stroke="#595959" stroke-width="0.7"/>
<line x1="239.83" y1="201.35" x2="243.03" y2="201.35" stroke="#595959" stroke-width="0.7"/>
<line x1="262.30" y1="194.09" x2="262.30" y2="199.53" stroke="#595959" stroke-width="0.7"/>
<line x1="260.70" y1="194.09" x2="263.90" y2="194.09" stroke="#595959" stroke-width="0.7"/>
<line x1="260.70" y1="199.53" x2="263.90" y2="199.53" stroke="#595959" stroke-width="0.7"/>
<line x1="283.17" y1="196.17" x2="283.17" y2="201.62" stroke="#595959" stroke-width="0.7"/>
<line x1="281.57" y1="196.17" x2="284.77" y2="196.17" stroke="#595959" stroke-width="0.7"/>
<line x1="281.57" y1="201.62" x2="284.77" y2="201.62" stroke="#595959" stroke-width="0.7"/>
<line x1="304.03" y1="202.98" x2="304.03" y2="208.43" stroke="#595959" stroke-width="0.7"/>
<line x1="302.43" y1="202.98" x2="305.63" y2="202.98" stroke="#595959" stroke-width="0.7"/>
<line x1="302.43" y1="208.43" x2="305.63" y2="208.43" stroke="#595959" stroke-width="0.7"/>
<line x1="324.90" y1="197.99" x2="324.90" y2="207.06" stroke="#595959" stroke-width="0.7"/>
<line x1="323.30" y1="197.99" x2="326.50" y2="197.99" stroke="#595959" stroke-width="0.7"/>
<line x1="323.30" y1="207.06" x2="326.50" y2="207.06" stroke="#595959" stroke-width="0.7"/>
<line x1="345.77" y1="187.28" x2="345.77" y2="195.45" stroke="#595959" stroke-width="0.7"/>
<line x1="344.17" y1="187.28" x2="347.37" y2="187.28" stroke="#595959" stroke-width="0.7"/>
<line x1="344.17" y1="195.45" x2="347.37" y2="195.45" stroke="#595959" stroke-width="0.7"/>
<line x1="366.63" y1="206.34" x2="366.63" y2="211.78" stroke="#595959" stroke-width="0.7"/>
<line x1="365.03" y1="206.34" x2="368.23" y2="206.34" stroke="#595959" stroke-width="0.7"/>
<line x1="365.03" y1="211.78" x2="368.23" y2="211.78" stroke="#595959" stroke-width="0.7"/>
<line x1="387.50" y1="199.99" x2="387.50" y2="210.88" stroke="#595959" stroke-width="0.7"/>
<line x1="385.90" y1="199.99" x2="389.10" y2="199.99" stroke="#595959" stroke-width="0.7"/>
<line x1="385.90" y1="210.88" x2="389.10" y2="210.88" stroke="#595959" stroke-width="0.7"/>
<line x1="408.37" y1="208.15" x2="408.37" y2="211.78" stroke="#595959" stroke-width="0.7"/>
<line x1="406.77" y1="208.15" x2="409.97" y2="208.15" stroke="#595959" stroke-width="0.7"/>
<line x1="406.77" y1="211.78" x2="409.97" y2="211.78" stroke="#595959" stroke-width="0.7"/>
<line x1="241.43" y1="197.17" x2="241.43" y2="200.80" stroke="#595959" stroke-width="0.7"/>
<line x1="239.83" y1="197.17" x2="243.03" y2="197.17" stroke="#595959" stroke-width="0.7"/>
<line x1="239.83" y1="200.80" x2="243.03" y2="200.80" stroke="#595959" stroke-width="0.7"/>
<line x1="262.30" y1="186.37" x2="262.30" y2="199.99" stroke="#595959" stroke-width="0.7"/>
<line x1="260.70" y1="186.37" x2="263.90" y2="186.37" stroke="#595959" stroke-width="0.7"/>
<line x1="260.70" y1="199.99" x2="263.90" y2="199.99" stroke="#595959" stroke-width="0.7"/>
<line x1="283.17" y1="193.63" x2="283.17" y2="203.62" stroke="#595959" stroke-width="0.7"/>
<line x1="281.57" y1="193.63" x2="284.77" y2="193.63" stroke="#595959" stroke-width="0.7"/>
<line x1="281.57" y1="203.62" x2="284.77" y2="203.62" stroke="#595959" stroke-width="0.7"/>
<line x1="304.03" y1="204.07" x2="304.03" y2="213.15" stroke="#595959" stroke-width="0.7"/>
<line x1="302.43" y1="204.07" x2="305.63" y2="204.07" stroke="#595959" stroke-width="0.7"/>
<line x1="302.43" y1="213.15" x2="305.63" y2="213.15" stroke="#595959" stroke-width="0.7"/>
<line x1="324.90" y1="197.99" x2="324.90" y2="207.06" stroke="#595959" stroke-width="0.7"/>
<line x1="323.30" y1="197.99" x2="326.50" y2="197.99" stroke="#595959" stroke-width="0.7"/>
<line x1="323.30" y1="207.06" x2="326.50" y2="207.06" stroke="#595959" stroke-width="0.7"/>
<line x1="345.77" y1="190.64" x2="345.77" y2="204.25" stroke="#595959" stroke-width="0.7"/>
<line x1="344.17" y1="190.64" x2="347.37" y2="190.64" stroke="#595959" stroke-width="0.7"/>
<line x1="344.17" y1="204.25" x2="347.37" y2="204.25" stroke="#595959" stroke-width="0.7"/>
<line x1="366.63" y1="201.89" x2="366.63" y2="205.52" stroke="#595959" stroke-width="0.7"/>
<line x1="365.03" y1="201.89" x2="368.23" y2="201.89" stroke="#595959" stroke-width="0.7"/>
<line x1="365.03" y1="205.52" x2="368.23" y2="205.52" stroke="#595959" stroke-width="0.7"/>
<line x1="387.50" y1="200.89" x2="387.50" y2="209.06" stroke="#595959" stroke-width="0.7"/>
<line x1="385.90" y1="200.89" x2="389.10" y2="200.89" stroke="#595959" stroke-width="0.7"/>
<line x1="385.90" y1="209.06" x2="389.10" y2="209.06" stroke="#595959" stroke-width="0.7"/>
<line x1="408.37" y1="209.97" x2="408.37" y2="212.69" stroke="#595959" stroke-width="0.7"/>
<line x1="406.77" y1="209.97" x2="409.97" y2="209.97" stroke="#595959" stroke-width="0.7"/>
<line x1="406.77" y1="212.69" x2="409.97" y2="212.69" stroke="#595959" stroke-width="0.7"/>
<circle cx="241.43" cy="199.53" r="1.72" fill="#7a7a7a" stroke="#333" stroke-width="0.95"/>
<circle cx="262.30" cy="196.81" r="1.72" fill="#7a7a7a" stroke="#333" stroke-width="0.95"/>
<circle cx="283.17" cy="198.90" r="1.72" fill="#7a7a7a" stroke="#333" stroke-width="0.95"/>
<circle cx="304.03" cy="205.70" r="1.72" fill="#7a7a7a" stroke="#333" stroke-width="0.95"/>
<circle cx="324.90" cy="202.53" r="1.72" fill="#7a7a7a" stroke="#333" stroke-width="0.95"/>
<circle cx="345.77" cy="191.37" r="1.72" fill="#7a7a7a" stroke="#333" stroke-width="0.95"/>
<circle cx="366.63" cy="209.06" r="1.72" fill="#7a7a7a" stroke="#333" stroke-width="0.95"/>
<circle cx="387.50" cy="205.43" r="1.72" fill="#7a7a7a" stroke="#333" stroke-width="0.95"/>
<circle cx="408.37" cy="209.97" r="1.72" fill="#7a7a7a" stroke="#333" stroke-width="0.95"/>
<rect x="239.43" y="196.99" width="4.0" height="4.0" fill="#000"/>
<rect x="260.30" y="191.18" width="4.0" height="4.0" fill="#000"/>
<rect x="281.17" y="196.62" width="4.0" height="4.0" fill="#000"/>
<rect x="302.03" y="206.61" width="4.0" height="4.0" fill="#000"/>
<rect x="322.90" y="200.53" width="4.0" height="4.0" fill="#000"/>
<rect x="343.77" y="195.45" width="4.0" height="4.0" fill="#000"/>
<rect x="364.63" y="201.71" width="4.0" height="4.0" fill="#000"/>
<rect x="385.50" y="202.98" width="4.0" height="4.0" fill="#000"/>
<rect x="406.37" y="209.33" width="4.0" height="4.0" fill="#000"/>
<line x1="25.50" y1="312.80" x2="25.50" y2="384.00" stroke="#404040" stroke-width="1.0"/>
<line x1="25.00" y1="383.50" x2="212.30" y2="383.50" stroke="#404040" stroke-width="1.0"/>
<line x1="23.40" y1="383.50" x2="25.50" y2="383.50" stroke="#404040" stroke-width="0.9"/>
<text x="18.90" y="385.50" font-size="6.0" fill="#7f7f7f" text-anchor="end" textLength="2.9" lengthAdjust="spacingAndGlyphs">0</text>
<line x1="23.40" y1="373.47" x2="25.50" y2="373.47" stroke="#404040" stroke-width="0.9"/>
<text x="18.90" y="375.47" font-size="6.0" fill="#7f7f7f" text-anchor="end" textLength="2.9" lengthAdjust="spacingAndGlyphs">5</text>
<line x1="23.40" y1="363.44" x2="25.50" y2="363.44" stroke="#404040" stroke-width="0.9"/>
<text x="18.90" y="365.44" font-size="6.0" fill="#7f7f7f" text-anchor="end" textLength="5.4" lengthAdjust="spacingAndGlyphs">10</text>
<line x1="23.40" y1="353.41" x2="25.50" y2="353.41" stroke="#404040" stroke-width="0.9"/>
<text x="18.90" y="355.41" font-size="6.0" fill="#7f7f7f" text-anchor="end" textLength="5.4" lengthAdjust="spacingAndGlyphs">15</text>
<line x1="23.40" y1="343.39" x2="25.50" y2="343.39" stroke="#404040" stroke-width="0.9"/>
<text x="18.90" y="345.39" font-size="6.0" fill="#7f7f7f" text-anchor="end" textLength="5.9" lengthAdjust="spacingAndGlyphs">20</text>
<line x1="23.40" y1="333.36" x2="25.50" y2="333.36" stroke="#404040" stroke-width="0.9"/>
<text x="18.90" y="335.36" font-size="6.0" fill="#7f7f7f" text-anchor="end" textLength="5.9" lengthAdjust="spacingAndGlyphs">25</text>
<line x1="23.40" y1="323.33" x2="25.50" y2="323.33" stroke="#404040" stroke-width="0.9"/>
<text x="18.90" y="325.33" font-size="6.0" fill="#7f7f7f" text-anchor="end" textLength="5.9" lengthAdjust="spacingAndGlyphs">30</text>
<line x1="23.40" y1="313.30" x2="25.50" y2="313.30" stroke="#404040" stroke-width="0.9"/>
<text x="18.90" y="315.30" font-size="6.0" fill="#7f7f7f" text-anchor="end" textLength="5.9" lengthAdjust="spacingAndGlyphs">35</text>
<text x="35.88" y="392.90" font-size="6.2" fill="#7f7f7f" text-anchor="middle" textLength="3.8" lengthAdjust="spacingAndGlyphs">6</text>
<text x="56.63" y="392.90" font-size="6.2" fill="#7f7f7f" text-anchor="middle" textLength="7.0" lengthAdjust="spacingAndGlyphs">12</text>
<text x="77.39" y="392.90" font-size="6.2" fill="#7f7f7f" text-anchor="middle" textLength="7.6" lengthAdjust="spacingAndGlyphs">20</text>
<text x="98.14" y="392.90" font-size="6.2" fill="#7f7f7f" text-anchor="middle" textLength="7.6" lengthAdjust="spacingAndGlyphs">28</text>
<text x="118.90" y="392.90" font-size="6.2" fill="#7f7f7f" text-anchor="middle" textLength="7.6" lengthAdjust="spacingAndGlyphs">36</text>
<text x="139.66" y="392.90" font-size="6.2" fill="#7f7f7f" text-anchor="middle" textLength="7.6" lengthAdjust="spacingAndGlyphs">44</text>
<text x="160.41" y="392.90" font-size="6.2" fill="#7f7f7f" text-anchor="middle" textLength="7.6" lengthAdjust="spacingAndGlyphs">52</text>
<text x="181.17" y="392.90" font-size="6.2" fill="#7f7f7f" text-anchor="middle" textLength="7.6" lengthAdjust="spacingAndGlyphs">60</text>
<text x="201.92" y="392.90" font-size="6.2" fill="#7f7f7f" text-anchor="middle" textLength="7.6" lengthAdjust="spacingAndGlyphs">68</text>
<text transform="translate(9.30,348.30) rotate(-90)" x="0" y="0" font-size="6.5" fill="#7f7f7f" text-anchor="middle" textLength="34.6" lengthAdjust="spacingAndGlyphs" stroke="#7f7f7f" stroke-width="0.12">Duration (s)</text>
<text x="101.20" y="403.70" font-size="6.5" fill="#7f7f7f" textLength="35.8" lengthAdjust="spacingAndGlyphs" stroke="#7f7f7f" stroke-width="0.12">Age (weeks)</text>
<text x="48.20" y="302.10" font-size="9.7" fill="#595959" textLength="117.6" lengthAdjust="spacingAndGlyphs" stroke="#595959" stroke-width="0.22">Beam walk (distance 80 cm)</text>
<text x="8.50" y="299.40" font-size="10" fill="#000" font-weight="bold">e</text>
<circle cx="80.00" cy="413.70" r="1.6" fill="#fff" stroke="#333" stroke-width="1.2"/>
<text x="83.50" y="416.20" font-size="6.2" fill="#595959" textLength="8.3" lengthAdjust="spacingAndGlyphs" stroke="#595959" stroke-width="0.12">WT</text>
<rect x="98.30" y="412.00" width="3.4" height="3.4" rx="0.3" fill="#9a9a9a" stroke="#333" stroke-width="1.0"/>
<text x="103.50" y="416.20" font-size="6.2" fill="#595959" textLength="43.5" lengthAdjust="spacingAndGlyphs" stroke="#595959" stroke-width="0.12">Capn3-deficient</text>
<line x1="35.88" y1="354.22" x2="35.88" y2="362.64" stroke="#595959" stroke-width="0.7"/>
<line x1="34.28" y1="354.22" x2="37.48" y2="354.22" stroke="#595959" stroke-width="0.7"/>
<line x1="34.28" y1="362.64" x2="37.48" y2="362.64" stroke="#595959" stroke-width="0.7"/>
<line x1="56.63" y1="360.03" x2="56.63" y2="370.86" stroke="#595959" stroke-width="0.7"/>
<line x1="55.03" y1="360.03" x2="58.23" y2="360.03" stroke="#595959" stroke-width="0.7"/>
<line x1="55.03" y1="370.86" x2="58.23" y2="370.86" stroke="#595959" stroke-width="0.7"/>
<line x1="77.39" y1="324.73" x2="77.39" y2="369.26" stroke="#595959" stroke-width="0.7"/>
<line x1="75.79" y1="324.73" x2="78.99" y2="324.73" stroke="#595959" stroke-width="0.7"/>
<line x1="75.79" y1="369.26" x2="78.99" y2="369.26" stroke="#595959" stroke-width="0.7"/>
<line x1="98.14" y1="368.16" x2="98.14" y2="372.17" stroke="#595959" stroke-width="0.7"/>
<line x1="96.54" y1="368.16" x2="99.74" y2="368.16" stroke="#595959" stroke-width="0.7"/>
<line x1="96.54" y1="372.17" x2="99.74" y2="372.17" stroke="#595959" stroke-width="0.7"/>
<line x1="118.90" y1="351.21" x2="118.90" y2="363.24" stroke="#595959" stroke-width="0.7"/>
<line x1="117.30" y1="351.21" x2="120.50" y2="351.21" stroke="#595959" stroke-width="0.7"/>
<line x1="117.30" y1="363.24" x2="120.50" y2="363.24" stroke="#595959" stroke-width="0.7"/>
<line x1="139.66" y1="363.94" x2="139.66" y2="367.96" stroke="#595959" stroke-width="0.7"/>
<line x1="138.06" y1="363.94" x2="141.26" y2="363.94" stroke="#595959" stroke-width="0.7"/>
<line x1="138.06" y1="367.96" x2="141.26" y2="367.96" stroke="#595959" stroke-width="0.7"/>
<line x1="160.41" y1="358.53" x2="160.41" y2="366.55" stroke="#595959" stroke-width="0.7"/>
<line x1="158.81" y1="358.53" x2="162.01" y2="358.53" stroke="#595959" stroke-width="0.7"/>
<line x1="158.81" y1="366.55" x2="162.01" y2="366.55" stroke="#595959" stroke-width="0.7"/>
<line x1="181.17" y1="356.42" x2="181.17" y2="364.45" stroke="#595959" stroke-width="0.7"/>
<line x1="179.57" y1="356.42" x2="182.77" y2="356.42" stroke="#595959" stroke-width="0.7"/>
<line x1="179.57" y1="364.45" x2="182.77" y2="364.45" stroke="#595959" stroke-width="0.7"/>
<line x1="201.92" y1="356.82" x2="201.92" y2="364.85" stroke="#595959" stroke-width="0.7"/>
<line x1="200.32" y1="356.82" x2="203.52" y2="356.82" stroke="#595959" stroke-width="0.7"/>
<line x1="200.32" y1="364.85" x2="203.52" y2="364.85" stroke="#595959" stroke-width="0.7"/>
<line x1="35.88" y1="358.43" x2="35.88" y2="366.45" stroke="#595959" stroke-width="0.7"/>
<line x1="34.28" y1="358.43" x2="37.48" y2="358.43" stroke="#595959" stroke-width="0.7"/>
<line x1="34.28" y1="366.45" x2="37.48" y2="366.45" stroke="#595959" stroke-width="0.7"/>
<line x1="56.63" y1="361.14" x2="56.63" y2="365.95" stroke="#595959" stroke-width="0.7"/>
<line x1="55.03" y1="361.14" x2="58.23" y2="361.14" stroke="#595959" stroke-width="0.7"/>
<line x1="55.03" y1="365.95" x2="58.23" y2="365.95" stroke="#595959" stroke-width="0.7"/>
<line x1="77.39" y1="353.01" x2="77.39" y2="367.86" stroke="#595959" stroke-width="0.7"/>
<line x1="75.79" y1="353.01" x2="78.99" y2="353.01" stroke="#595959" stroke-width="0.7"/>
<line x1="75.79" y1="367.86" x2="78.99" y2="367.86" stroke="#595959" stroke-width="0.7"/>
<line x1="98.14" y1="367.15" x2="98.14" y2="373.17" stroke="#595959" stroke-width="0.7"/>
<line x1="96.54" y1="367.15" x2="99.74" y2="367.15" stroke="#595959" stroke-width="0.7"/>
<line x1="96.54" y1="373.17" x2="99.74" y2="373.17" stroke="#595959" stroke-width="0.7"/>
<line x1="118.90" y1="346.90" x2="118.90" y2="363.74" stroke="#595959" stroke-width="0.7"/>
<line x1="117.30" y1="346.90" x2="120.50" y2="346.90" stroke="#595959" stroke-width="0.7"/>
<line x1="117.30" y1="363.74" x2="120.50" y2="363.74" stroke="#595959" stroke-width="0.7"/>
<line x1="139.66" y1="350.41" x2="139.66" y2="366.05" stroke="#595959" stroke-width="0.7"/>
<line x1="138.06" y1="350.41" x2="141.26" y2="350.41" stroke="#595959" stroke-width="0.7"/>
<line x1="138.06" y1="366.05" x2="141.26" y2="366.05" stroke="#595959" stroke-width="0.7"/>
<line x1="160.41" y1="354.32" x2="160.41" y2="370.76" stroke="#595959" stroke-width="0.7"/>
<line x1="158.81" y1="354.32" x2="162.01" y2="354.32" stroke="#595959" stroke-width="0.7"/>
<line x1="158.81" y1="370.76" x2="162.01" y2="370.76" stroke="#595959" stroke-width="0.7"/>
<line x1="181.17" y1="355.02" x2="181.17" y2="365.85" stroke="#595959" stroke-width="0.7"/>
<line x1="179.57" y1="355.02" x2="182.77" y2="355.02" stroke="#595959" stroke-width="0.7"/>
<line x1="179.57" y1="365.85" x2="182.77" y2="365.85" stroke="#595959" stroke-width="0.7"/>
<line x1="201.92" y1="355.42" x2="201.92" y2="366.25" stroke="#595959" stroke-width="0.7"/>
<line x1="200.32" y1="355.42" x2="203.52" y2="355.42" stroke="#595959" stroke-width="0.7"/>
<line x1="200.32" y1="366.25" x2="203.52" y2="366.25" stroke="#595959" stroke-width="0.7"/>
<circle cx="35.88" cy="358.43" r="1.80" fill="#fff" stroke="#404040" stroke-width="0.9"/>
<circle cx="56.63" cy="365.45" r="1.80" fill="#fff" stroke="#404040" stroke-width="0.9"/>
<circle cx="77.39" cy="347.00" r="1.80" fill="#fff" stroke="#404040" stroke-width="0.9"/>
<circle cx="98.14" cy="370.16" r="1.80" fill="#fff" stroke="#404040" stroke-width="0.9"/>
<circle cx="118.90" cy="357.23" r="1.80" fill="#fff" stroke="#404040" stroke-width="0.9"/>
<circle cx="139.66" cy="365.95" r="1.80" fill="#fff" stroke="#404040" stroke-width="0.9"/>
<circle cx="160.41" cy="362.54" r="1.80" fill="#fff" stroke="#404040" stroke-width="0.9"/>
<circle cx="181.17" cy="360.43" r="1.80" fill="#fff" stroke="#404040" stroke-width="0.9"/>
<circle cx="201.92" cy="360.84" r="1.80" fill="#fff" stroke="#404040" stroke-width="0.9"/>
<rect x="34.08" y="360.64" width="3.60" height="3.60" fill="#a6a6a6" stroke="#404040" stroke-width="0.9"/>
<rect x="54.83" y="361.74" width="3.60" height="3.60" fill="#a6a6a6" stroke="#404040" stroke-width="0.9"/>
<rect x="75.59" y="358.63" width="3.60" height="3.60" fill="#a6a6a6" stroke="#404040" stroke-width="0.9"/>
<rect x="96.34" y="368.36" width="3.60" height="3.60" fill="#a6a6a6" stroke="#404040" stroke-width="0.9"/>
<rect x="117.10" y="353.52" width="3.60" height="3.60" fill="#a6a6a6" stroke="#404040" stroke-width="0.9"/>
<rect x="137.86" y="356.43" width="3.60" height="3.60" fill="#a6a6a6" stroke="#404040" stroke-width="0.9"/>
<rect x="158.61" y="360.74" width="3.60" height="3.60" fill="#a6a6a6" stroke="#404040" stroke-width="0.9"/>
<rect x="179.37" y="358.63" width="3.60" height="3.60" fill="#a6a6a6" stroke="#404040" stroke-width="0.9"/>
<rect x="200.12" y="359.04" width="3.60" height="3.60" fill="#a6a6a6" stroke="#404040" stroke-width="0.9"/>
<line x1="235.50" y1="313.30" x2="235.50" y2="384.00" stroke="#404040" stroke-width="1.0"/>
<line x1="235.00" y1="383.50" x2="422.50" y2="383.50" stroke="#404040" stroke-width="1.0"/>
<line x1="233.40" y1="383.50" x2="235.50" y2="383.50" stroke="#404040" stroke-width="0.9"/>
<text x="229.90" y="385.50" font-size="6.4" fill="#7f7f7f" text-anchor="end" textLength="3.6" lengthAdjust="spacingAndGlyphs">0</text>
<line x1="233.40" y1="373.54" x2="235.50" y2="373.54" stroke="#404040" stroke-width="0.9"/>
<text x="229.90" y="375.54" font-size="6.4" fill="#7f7f7f" text-anchor="end" textLength="3.6" lengthAdjust="spacingAndGlyphs">5</text>
<line x1="233.40" y1="363.59" x2="235.50" y2="363.59" stroke="#404040" stroke-width="0.9"/>
<text x="229.90" y="365.59" font-size="6.4" fill="#7f7f7f" text-anchor="end" textLength="6.6" lengthAdjust="spacingAndGlyphs">10</text>
<line x1="233.40" y1="353.63" x2="235.50" y2="353.63" stroke="#404040" stroke-width="0.9"/>
<text x="229.90" y="355.63" font-size="6.4" fill="#7f7f7f" text-anchor="end" textLength="6.6" lengthAdjust="spacingAndGlyphs">15</text>
<line x1="233.40" y1="343.67" x2="235.50" y2="343.67" stroke="#404040" stroke-width="0.9"/>
<text x="229.90" y="345.67" font-size="6.4" fill="#7f7f7f" text-anchor="end" textLength="7.1" lengthAdjust="spacingAndGlyphs">20</text>
<line x1="233.40" y1="333.71" x2="235.50" y2="333.71" stroke="#404040" stroke-width="0.9"/>
<text x="229.90" y="335.71" font-size="6.4" fill="#7f7f7f" text-anchor="end" textLength="7.1" lengthAdjust="spacingAndGlyphs">25</text>
<line x1="233.40" y1="323.76" x2="235.50" y2="323.76" stroke="#404040" stroke-width="0.9"/>
<text x="229.90" y="325.76" font-size="6.4" fill="#7f7f7f" text-anchor="end" textLength="7.1" lengthAdjust="spacingAndGlyphs">30</text>
<line x1="233.40" y1="313.80" x2="235.50" y2="313.80" stroke="#404040" stroke-width="0.9"/>
<text x="229.90" y="315.80" font-size="6.4" fill="#7f7f7f" text-anchor="end" textLength="7.1" lengthAdjust="spacingAndGlyphs">35</text>
<text x="245.89" y="393.50" font-size="6.4" fill="#7f7f7f" text-anchor="middle" textLength="3.6" lengthAdjust="spacingAndGlyphs">6</text>
<text x="266.67" y="393.50" font-size="6.4" fill="#7f7f7f" text-anchor="middle" textLength="6.6" lengthAdjust="spacingAndGlyphs">12</text>
<text x="287.44" y="393.50" font-size="6.4" fill="#7f7f7f" text-anchor="middle" textLength="7.1" lengthAdjust="spacingAndGlyphs">20</text>
<text x="308.22" y="393.50" font-size="6.4" fill="#7f7f7f" text-anchor="middle" textLength="7.1" lengthAdjust="spacingAndGlyphs">28</text>
<text x="329.00" y="393.50" font-size="6.4" fill="#7f7f7f" text-anchor="middle" textLength="7.1" lengthAdjust="spacingAndGlyphs">36</text>
<text x="349.78" y="393.50" font-size="6.4" fill="#7f7f7f" text-anchor="middle" textLength="7.1" lengthAdjust="spacingAndGlyphs">44</text>
<text x="370.56" y="393.50" font-size="6.4" fill="#7f7f7f" text-anchor="middle" textLength="7.1" lengthAdjust="spacingAndGlyphs">52</text>
<text x="391.33" y="393.50" font-size="6.4" fill="#7f7f7f" text-anchor="middle" textLength="7.1" lengthAdjust="spacingAndGlyphs">60</text>
<text x="412.11" y="393.50" font-size="6.4" fill="#7f7f7f" text-anchor="middle" textLength="7.1" lengthAdjust="spacingAndGlyphs">68</text>
<text transform="translate(219.30,348.50) rotate(-90)" x="0" y="0" font-size="6.5" fill="#7f7f7f" text-anchor="middle" textLength="34.9" lengthAdjust="spacingAndGlyphs" stroke="#7f7f7f" stroke-width="0.12">Duration (s)</text>
<text x="311.20" y="404.10" font-size="6.5" fill="#7f7f7f" textLength="35.8" lengthAdjust="spacingAndGlyphs" stroke="#7f7f7f" stroke-width="0.12">Age (weeks)</text>
<text x="258.20" y="302.50" font-size="9.7" fill="#595959" textLength="117.6" lengthAdjust="spacingAndGlyphs" stroke="#595959" stroke-width="0.22">Beam walk (distance 80 cm)</text>
<text x="233.00" y="299.50" font-size="9.7" fill="#000" font-weight="bold">f</text>
<circle cx="295.40" cy="414.00" r="1.55" fill="#7f7f7f" stroke="#262626" stroke-width="1.1"/>
<text x="298.70" y="416.10" font-size="5.5" fill="#595959" textLength="8.9" lengthAdjust="spacingAndGlyphs" stroke="#595959" stroke-width="0.12">WT</text>
<rect x="313.40" y="412.00" width="4.0" height="4.0" fill="#000"/>
<text x="319.00" y="416.10" font-size="5.5" fill="#595959" textLength="43.2" lengthAdjust="spacingAndGlyphs" stroke="#595959" stroke-width="0.12">Capn3-deficient</text>
<line x1="245.89" y1="350.84" x2="245.89" y2="360.80" stroke="#595959" stroke-width="0.7"/>
<line x1="244.29" y1="350.84" x2="247.49" y2="350.84" stroke="#595959" stroke-width="0.7"/>
<line x1="244.29" y1="360.80" x2="247.49" y2="360.80" stroke="#595959" stroke-width="0.7"/>
<line x1="266.67" y1="366.77" x2="266.67" y2="371.55" stroke="#595959" stroke-width="0.7"/>
<line x1="265.07" y1="366.77" x2="268.27" y2="366.77" stroke="#595959" stroke-width="0.7"/>
<line x1="265.07" y1="371.55" x2="268.27" y2="371.55" stroke="#595959" stroke-width="0.7"/>
<line x1="287.44" y1="364.58" x2="287.44" y2="369.36" stroke="#595959" stroke-width="0.7"/>
<line x1="285.84" y1="364.58" x2="289.04" y2="364.58" stroke="#595959" stroke-width="0.7"/>
<line x1="285.84" y1="369.36" x2="289.04" y2="369.36" stroke="#595959" stroke-width="0.7"/>
<line x1="308.22" y1="366.17" x2="308.22" y2="372.15" stroke="#595959" stroke-width="0.7"/>
<line x1="306.62" y1="366.17" x2="309.82" y2="366.17" stroke="#595959" stroke-width="0.7"/>
<line x1="306.62" y1="372.15" x2="309.82" y2="372.15" stroke="#595959" stroke-width="0.7"/>
<line x1="329.00" y1="319.18" x2="329.00" y2="355.42" stroke="#595959" stroke-width="0.7"/>
<line x1="327.40" y1="319.18" x2="330.60" y2="319.18" stroke="#595959" stroke-width="0.7"/>
<line x1="327.40" y1="355.42" x2="330.60" y2="355.42" stroke="#595959" stroke-width="0.7"/>
<line x1="349.78" y1="342.08" x2="349.78" y2="362.39" stroke="#595959" stroke-width="0.7"/>
<line x1="348.18" y1="342.08" x2="351.38" y2="342.08" stroke="#595959" stroke-width="0.7"/>
<line x1="348.18" y1="362.39" x2="351.38" y2="362.39" stroke="#595959" stroke-width="0.7"/>
<line x1="370.56" y1="351.84" x2="370.56" y2="359.80" stroke="#595959" stroke-width="0.7"/>
<line x1="368.96" y1="351.84" x2="372.16" y2="351.84" stroke="#595959" stroke-width="0.7"/>
<line x1="368.96" y1="359.80" x2="372.16" y2="359.80" stroke="#595959" stroke-width="0.7"/>
<line x1="391.33" y1="349.84" x2="391.33" y2="354.62" stroke="#595959" stroke-width="0.7"/>
<line x1="389.73" y1="349.84" x2="392.93" y2="349.84" stroke="#595959" stroke-width="0.7"/>
<line x1="389.73" y1="354.62" x2="392.93" y2="354.62" stroke="#595959" stroke-width="0.7"/>
<line x1="412.11" y1="342.28" x2="412.11" y2="354.23" stroke="#595959" stroke-width="0.7"/>
<line x1="410.51" y1="342.28" x2="413.71" y2="342.28" stroke="#595959" stroke-width="0.7"/>
<line x1="410.51" y1="354.23" x2="413.71" y2="354.23" stroke="#595959" stroke-width="0.7"/>
<line x1="245.89" y1="344.67" x2="245.89" y2="362.99" stroke="#595959" stroke-width="0.7"/>
<line x1="244.29" y1="344.67" x2="247.49" y2="344.67" stroke="#595959" stroke-width="0.7"/>
<line x1="244.29" y1="362.99" x2="247.49" y2="362.99" stroke="#595959" stroke-width="0.7"/>
<line x1="266.67" y1="363.59" x2="266.67" y2="373.14" stroke="#595959" stroke-width="0.7"/>
<line x1="265.07" y1="363.59" x2="268.27" y2="363.59" stroke="#595959" stroke-width="0.7"/>
<line x1="265.07" y1="373.14" x2="268.27" y2="373.14" stroke="#595959" stroke-width="0.7"/>
<line x1="287.44" y1="362.39" x2="287.44" y2="370.36" stroke="#595959" stroke-width="0.7"/>
<line x1="285.84" y1="362.39" x2="289.04" y2="362.39" stroke="#595959" stroke-width="0.7"/>
<line x1="285.84" y1="370.36" x2="289.04" y2="370.36" stroke="#595959" stroke-width="0.7"/>
<line x1="308.22" y1="361.59" x2="308.22" y2="371.15" stroke="#595959" stroke-width="0.7"/>
<line x1="306.62" y1="361.59" x2="309.82" y2="361.59" stroke="#595959" stroke-width="0.7"/>
<line x1="306.62" y1="371.15" x2="309.82" y2="371.15" stroke="#595959" stroke-width="0.7"/>
<line x1="329.00" y1="347.65" x2="329.00" y2="370.75" stroke="#595959" stroke-width="0.7"/>
<line x1="327.40" y1="347.65" x2="330.60" y2="347.65" stroke="#595959" stroke-width="0.7"/>
<line x1="327.40" y1="370.75" x2="330.60" y2="370.75" stroke="#595959" stroke-width="0.7"/>
<line x1="349.78" y1="356.62" x2="349.78" y2="367.57" stroke="#595959" stroke-width="0.7"/>
<line x1="348.18" y1="356.62" x2="351.38" y2="356.62" stroke="#595959" stroke-width="0.7"/>
<line x1="348.18" y1="367.57" x2="351.38" y2="367.57" stroke="#595959" stroke-width="0.7"/>
<line x1="370.56" y1="348.05" x2="370.56" y2="358.81" stroke="#595959" stroke-width="0.7"/>
<line x1="368.96" y1="348.05" x2="372.16" y2="348.05" stroke="#595959" stroke-width="0.7"/>
<line x1="368.96" y1="358.81" x2="372.16" y2="358.81" stroke="#595959" stroke-width="0.7"/>
<line x1="391.33" y1="353.63" x2="391.33" y2="363.98" stroke="#595959" stroke-width="0.7"/>
<line x1="389.73" y1="353.63" x2="392.93" y2="353.63" stroke="#595959" stroke-width="0.7"/>
<line x1="389.73" y1="363.98" x2="392.93" y2="363.98" stroke="#595959" stroke-width="0.7"/>
<line x1="412.11" y1="334.51" x2="412.11" y2="356.81" stroke="#595959" stroke-width="0.7"/>
<line x1="410.51" y1="334.51" x2="413.71" y2="334.51" stroke="#595959" stroke-width="0.7"/>
<line x1="410.51" y1="356.81" x2="413.71" y2="356.81" stroke="#595959" stroke-width="0.7"/>
<circle cx="245.89" cy="355.82" r="1.72" fill="#7a7a7a" stroke="#333" stroke-width="0.95"/>
<circle cx="266.67" cy="369.16" r="1.72" fill="#7a7a7a" stroke="#333" stroke-width="0.95"/>
<circle cx="287.44" cy="366.97" r="1.72" fill="#7a7a7a" stroke="#333" stroke-width="0.95"/>
<circle cx="308.22" cy="369.16" r="1.72" fill="#7a7a7a" stroke="#333" stroke-width="0.95"/>
<circle cx="329.00" cy="337.30" r="1.72" fill="#7a7a7a" stroke="#333" stroke-width="0.95"/>
<circle cx="349.78" cy="352.23" r="1.72" fill="#7a7a7a" stroke="#333" stroke-width="0.95"/>
<circle cx="370.56" cy="355.82" r="1.72" fill="#7a7a7a" stroke="#333" stroke-width="0.95"/>
<circle cx="391.33" cy="352.23" r="1.72" fill="#7a7a7a" stroke="#333" stroke-width="0.95"/>
<circle cx="412.11" cy="348.25" r="1.72" fill="#7a7a7a" stroke="#333" stroke-width="0.95"/>
<rect x="243.89" y="351.83" width="4.0" height="4.0" fill="#000"/>
<rect x="264.67" y="366.37" width="4.0" height="4.0" fill="#000"/>
<rect x="285.44" y="364.37" width="4.0" height="4.0" fill="#000"/>
<rect x="306.22" y="364.37" width="4.0" height="4.0" fill="#000"/>
<rect x="327.00" y="357.20" width="4.0" height="4.0" fill="#000"/>
<rect x="347.78" y="360.09" width="4.0" height="4.0" fill="#000"/>
<rect x="368.56" y="351.43" width="4.0" height="4.0" fill="#000"/>
<rect x="389.33" y="356.81" width="4.0" height="4.0" fill="#000"/>
<rect x="410.11" y="343.66" width="4.0" height="4.0" fill="#000"/>
<line x1="23.50" y1="448.50" x2="23.50" y2="523.00" stroke="#404040" stroke-width="1.0"/>
<line x1="23.00" y1="522.50" x2="213.90" y2="522.50" stroke="#404040" stroke-width="1.0"/>
<line x1="21.40" y1="522.50" x2="23.50" y2="522.50" stroke="#404040" stroke-width="0.9"/>
<text x="17.60" y="524.50" font-size="6.5" fill="#7f7f7f" text-anchor="end" textLength="3.4" lengthAdjust="spacingAndGlyphs">0</text>
<line x1="21.40" y1="507.80" x2="23.50" y2="507.80" stroke="#404040" stroke-width="0.9"/>
<text x="17.60" y="509.80" font-size="6.5" fill="#7f7f7f" text-anchor="end" textLength="2.9" lengthAdjust="spacingAndGlyphs">1</text>
<line x1="21.40" y1="493.10" x2="23.50" y2="493.10" stroke="#404040" stroke-width="0.9"/>
<text x="17.60" y="495.10" font-size="6.5" fill="#7f7f7f" text-anchor="end" textLength="3.4" lengthAdjust="spacingAndGlyphs">2</text>
<line x1="21.40" y1="478.40" x2="23.50" y2="478.40" stroke="#404040" stroke-width="0.9"/>
<text x="17.60" y="480.40" font-size="6.5" fill="#7f7f7f" text-anchor="end" textLength="3.4" lengthAdjust="spacingAndGlyphs">3</text>
<line x1="21.40" y1="463.70" x2="23.50" y2="463.70" stroke="#404040" stroke-width="0.9"/>
<text x="17.60" y="465.70" font-size="6.5" fill="#7f7f7f" text-anchor="end" textLength="3.4" lengthAdjust="spacingAndGlyphs">4</text>
<line x1="21.40" y1="449.00" x2="23.50" y2="449.00" stroke="#404040" stroke-width="0.9"/>
<text x="17.60" y="451.00" font-size="6.5" fill="#7f7f7f" text-anchor="end" textLength="3.4" lengthAdjust="spacingAndGlyphs">5</text>
<text x="34.08" y="532.50" font-size="6.5" fill="#7f7f7f" text-anchor="middle" textLength="3.4" lengthAdjust="spacingAndGlyphs">6</text>
<text x="55.23" y="532.50" font-size="6.5" fill="#7f7f7f" text-anchor="middle" textLength="6.4" lengthAdjust="spacingAndGlyphs">12</text>
<text x="76.39" y="532.50" font-size="6.5" fill="#7f7f7f" text-anchor="middle" textLength="6.9" lengthAdjust="spacingAndGlyphs">20</text>
<text x="97.54" y="532.50" font-size="6.5" fill="#7f7f7f" text-anchor="middle" textLength="6.9" lengthAdjust="spacingAndGlyphs">28</text>
<text x="118.70" y="532.50" font-size="6.5" fill="#7f7f7f" text-anchor="middle" textLength="6.9" lengthAdjust="spacingAndGlyphs">36</text>
<text x="139.86" y="532.50" font-size="6.5" fill="#7f7f7f" text-anchor="middle" textLength="6.9" lengthAdjust="spacingAndGlyphs">44</text>
<text x="161.01" y="532.50" font-size="6.5" fill="#7f7f7f" text-anchor="middle" textLength="6.9" lengthAdjust="spacingAndGlyphs">52</text>
<text x="182.17" y="532.50" font-size="6.5" fill="#7f7f7f" text-anchor="middle" textLength="6.9" lengthAdjust="spacingAndGlyphs">60</text>
<text x="203.32" y="532.50" font-size="6.5" fill="#7f7f7f" text-anchor="middle" textLength="6.9" lengthAdjust="spacingAndGlyphs">68</text>
<text transform="translate(11.00,486.00) rotate(-90)" x="0" y="0" font-size="6.5" fill="#7f7f7f" text-anchor="middle" textLength="36.3" lengthAdjust="spacingAndGlyphs" stroke="#7f7f7f" stroke-width="0.12">Footslips (#)</text>
<text x="100.50" y="542.90" font-size="6.5" fill="#7f7f7f" textLength="36.0" lengthAdjust="spacingAndGlyphs" stroke="#7f7f7f" stroke-width="0.12">Age (weeks)</text>
<text x="67.10" y="437.50" font-size="9.7" fill="#595959" textLength="82.3" lengthAdjust="spacingAndGlyphs" stroke="#595959" stroke-width="0.22">Number of footslips</text>
<text x="9.80" y="433.70" font-size="11" fill="#000" font-weight="bold" font-family='"Liberation Serif", "Times New Roman", serif'>g</text>
<circle cx="87.10" cy="549.70" r="1.6" fill="#fff" stroke="#333" stroke-width="1.2"/>
<text x="89.90" y="552.20" font-size="6.2" fill="#595959" textLength="8.9" lengthAdjust="spacingAndGlyphs" stroke="#595959" stroke-width="0.12">WT</text>
<rect x="105.30" y="548.00" width="3.4" height="3.4" rx="0.3" fill="#9a9a9a" stroke="#333" stroke-width="1.0"/>
<text x="109.90" y="552.20" font-size="6.2" fill="#595959" textLength="43.7" lengthAdjust="spacingAndGlyphs" stroke="#595959" stroke-width="0.12">Capn3-deficient</text>
<line x1="55.23" y1="507.95" x2="55.23" y2="522.50" stroke="#595959" stroke-width="0.7"/>
<line x1="53.63" y1="507.95" x2="56.83" y2="507.95" stroke="#595959" stroke-width="0.7"/>
<line x1="53.63" y1="522.50" x2="56.83" y2="522.50" stroke="#595959" stroke-width="0.7"/>
<line x1="76.39" y1="497.51" x2="76.39" y2="518.09" stroke="#595959" stroke-width="0.7"/>
<line x1="74.79" y1="497.51" x2="77.99" y2="497.51" stroke="#595959" stroke-width="0.7"/>
<line x1="74.79" y1="518.09" x2="77.99" y2="518.09" stroke="#595959" stroke-width="0.7"/>
<line x1="118.70" y1="489.72" x2="118.70" y2="522.50" stroke="#595959" stroke-width="0.7"/>
<line x1="117.10" y1="489.72" x2="120.30" y2="489.72" stroke="#595959" stroke-width="0.7"/>
<line x1="117.10" y1="522.50" x2="120.30" y2="522.50" stroke="#595959" stroke-width="0.7"/>
<line x1="139.86" y1="507.65" x2="139.86" y2="522.35" stroke="#595959" stroke-width="0.7"/>
<line x1="138.26" y1="507.65" x2="141.46" y2="507.65" stroke="#595959" stroke-width="0.7"/>
<line x1="138.26" y1="522.35" x2="141.46" y2="522.35" stroke="#595959" stroke-width="0.7"/>
<line x1="161.01" y1="490.16" x2="161.01" y2="522.50" stroke="#595959" stroke-width="0.7"/>
<line x1="159.41" y1="490.16" x2="162.61" y2="490.16" stroke="#595959" stroke-width="0.7"/>
<line x1="159.41" y1="522.50" x2="162.61" y2="522.50" stroke="#595959" stroke-width="0.7"/>
<line x1="182.17" y1="494.57" x2="182.17" y2="521.03" stroke="#595959" stroke-width="0.7"/>
<line x1="180.57" y1="494.57" x2="183.77" y2="494.57" stroke="#595959" stroke-width="0.7"/>
<line x1="180.57" y1="521.03" x2="183.77" y2="521.03" stroke="#595959" stroke-width="0.7"/>
<line x1="203.32" y1="484.43" x2="203.32" y2="521.47" stroke="#595959" stroke-width="0.7"/>
<line x1="201.72" y1="484.43" x2="204.92" y2="484.43" stroke="#595959" stroke-width="0.7"/>
<line x1="201.72" y1="521.47" x2="204.92" y2="521.47" stroke="#595959" stroke-width="0.7"/>
<line x1="55.23" y1="500.01" x2="55.23" y2="522.50" stroke="#595959" stroke-width="0.7"/>
<line x1="53.63" y1="500.01" x2="56.83" y2="500.01" stroke="#595959" stroke-width="0.7"/>
<line x1="53.63" y1="522.50" x2="56.83" y2="522.50" stroke="#595959" stroke-width="0.7"/>
<line x1="76.39" y1="513.09" x2="76.39" y2="522.50" stroke="#595959" stroke-width="0.7"/>
<line x1="74.79" y1="513.09" x2="77.99" y2="513.09" stroke="#595959" stroke-width="0.7"/>
<line x1="74.79" y1="522.50" x2="77.99" y2="522.50" stroke="#595959" stroke-width="0.7"/>
<line x1="118.70" y1="499.86" x2="118.70" y2="521.91" stroke="#595959" stroke-width="0.7"/>
<line x1="117.10" y1="499.86" x2="120.30" y2="499.86" stroke="#595959" stroke-width="0.7"/>
<line x1="117.10" y1="521.91" x2="120.30" y2="521.91" stroke="#595959" stroke-width="0.7"/>
<line x1="139.86" y1="475.31" x2="139.86" y2="517.65" stroke="#595959" stroke-width="0.7"/>
<line x1="138.26" y1="475.31" x2="141.46" y2="475.31" stroke="#595959" stroke-width="0.7"/>
<line x1="138.26" y1="517.65" x2="141.46" y2="517.65" stroke="#595959" stroke-width="0.7"/>
<line x1="161.01" y1="489.72" x2="161.01" y2="522.50" stroke="#595959" stroke-width="0.7"/>
<line x1="159.41" y1="489.72" x2="162.61" y2="489.72" stroke="#595959" stroke-width="0.7"/>
<line x1="159.41" y1="522.50" x2="162.61" y2="522.50" stroke="#595959" stroke-width="0.7"/>
<line x1="182.17" y1="492.07" x2="182.17" y2="516.18" stroke="#595959" stroke-width="0.7"/>
<line x1="180.57" y1="492.07" x2="183.77" y2="492.07" stroke="#595959" stroke-width="0.7"/>
<line x1="180.57" y1="516.18" x2="183.77" y2="516.18" stroke="#595959" stroke-width="0.7"/>
<line x1="203.32" y1="497.66" x2="203.32" y2="517.94" stroke="#595959" stroke-width="0.7"/>
<line x1="201.72" y1="497.66" x2="204.92" y2="497.66" stroke="#595959" stroke-width="0.7"/>
<line x1="201.72" y1="517.94" x2="204.92" y2="517.94" stroke="#595959" stroke-width="0.7"/>
<circle cx="34.08" cy="522.50" r="1.80" fill="#fff" stroke="#404040" stroke-width="0.9"/>
<circle cx="55.23" cy="515.30" r="1.80" fill="#fff" stroke="#404040" stroke-width="0.9"/>
<circle cx="76.39" cy="507.80" r="1.80" fill="#fff" stroke="#404040" stroke-width="0.9"/>
<circle cx="97.54" cy="522.50" r="1.80" fill="#fff" stroke="#404040" stroke-width="0.9"/>
<circle cx="118.70" cy="508.24" r="1.80" fill="#fff" stroke="#404040" stroke-width="0.9"/>
<circle cx="139.86" cy="515.00" r="1.80" fill="#fff" stroke="#404040" stroke-width="0.9"/>
<circle cx="161.01" cy="507.80" r="1.80" fill="#fff" stroke="#404040" stroke-width="0.9"/>
<circle cx="182.17" cy="507.80" r="1.80" fill="#fff" stroke="#404040" stroke-width="0.9"/>
<circle cx="203.32" cy="502.95" r="1.80" fill="#fff" stroke="#404040" stroke-width="0.9"/>
<rect x="32.28" y="520.70" width="3.60" height="3.60" fill="#a6a6a6" stroke="#404040" stroke-width="0.9"/>
<rect x="53.43" y="509.97" width="3.60" height="3.60" fill="#a6a6a6" stroke="#404040" stroke-width="0.9"/>
<rect x="74.59" y="517.17" width="3.60" height="3.60" fill="#a6a6a6" stroke="#404040" stroke-width="0.9"/>
<rect x="95.74" y="520.70" width="3.60" height="3.60" fill="#a6a6a6" stroke="#404040" stroke-width="0.9"/>
<rect x="116.90" y="509.09" width="3.60" height="3.60" fill="#a6a6a6" stroke="#404040" stroke-width="0.9"/>
<rect x="138.06" y="494.68" width="3.60" height="3.60" fill="#a6a6a6" stroke="#404040" stroke-width="0.9"/>
<rect x="159.21" y="506.00" width="3.60" height="3.60" fill="#a6a6a6" stroke="#404040" stroke-width="0.9"/>
<rect x="180.37" y="502.32" width="3.60" height="3.60" fill="#a6a6a6" stroke="#404040" stroke-width="0.9"/>
<rect x="201.52" y="506.00" width="3.60" height="3.60" fill="#a6a6a6" stroke="#404040" stroke-width="0.9"/>
<line x1="234.50" y1="448.70" x2="234.50" y2="523.00" stroke="#404040" stroke-width="1.0"/>
<line x1="234.00" y1="522.50" x2="424.50" y2="522.50" stroke="#404040" stroke-width="1.0"/>
<line x1="232.40" y1="522.50" x2="234.50" y2="522.50" stroke="#404040" stroke-width="0.9"/>
<text x="228.40" y="524.50" font-size="6.3" fill="#7f7f7f" text-anchor="end" textLength="3.2" lengthAdjust="spacingAndGlyphs">0</text>
<line x1="232.40" y1="507.84" x2="234.50" y2="507.84" stroke="#404040" stroke-width="0.9"/>
<text x="228.40" y="509.84" font-size="6.3" fill="#7f7f7f" text-anchor="end" textLength="2.7" lengthAdjust="spacingAndGlyphs">1</text>
<line x1="232.40" y1="493.18" x2="234.50" y2="493.18" stroke="#404040" stroke-width="0.9"/>
<text x="228.40" y="495.18" font-size="6.3" fill="#7f7f7f" text-anchor="end" textLength="3.2" lengthAdjust="spacingAndGlyphs">2</text>
<line x1="232.40" y1="478.52" x2="234.50" y2="478.52" stroke="#404040" stroke-width="0.9"/>
<text x="228.40" y="480.52" font-size="6.3" fill="#7f7f7f" text-anchor="end" textLength="3.2" lengthAdjust="spacingAndGlyphs">3</text>
<line x1="232.40" y1="463.86" x2="234.50" y2="463.86" stroke="#404040" stroke-width="0.9"/>
<text x="228.40" y="465.86" font-size="6.3" fill="#7f7f7f" text-anchor="end" textLength="3.2" lengthAdjust="spacingAndGlyphs">4</text>
<line x1="232.40" y1="449.20" x2="234.50" y2="449.20" stroke="#404040" stroke-width="0.9"/>
<text x="228.40" y="451.20" font-size="6.3" fill="#7f7f7f" text-anchor="end" textLength="3.2" lengthAdjust="spacingAndGlyphs">5</text>
<text x="245.06" y="532.30" font-size="6.3" fill="#7f7f7f" text-anchor="middle" textLength="3.2" lengthAdjust="spacingAndGlyphs">6</text>
<text x="266.17" y="532.30" font-size="6.3" fill="#7f7f7f" text-anchor="middle" textLength="6.0" lengthAdjust="spacingAndGlyphs">12</text>
<text x="287.28" y="532.30" font-size="6.3" fill="#7f7f7f" text-anchor="middle" textLength="6.4" lengthAdjust="spacingAndGlyphs">20</text>
<text x="308.39" y="532.30" font-size="6.3" fill="#7f7f7f" text-anchor="middle" textLength="6.4" lengthAdjust="spacingAndGlyphs">28</text>
<text x="329.50" y="532.30" font-size="6.3" fill="#7f7f7f" text-anchor="middle" textLength="6.4" lengthAdjust="spacingAndGlyphs">36</text>
<text x="350.61" y="532.30" font-size="6.3" fill="#7f7f7f" text-anchor="middle" textLength="6.4" lengthAdjust="spacingAndGlyphs">44</text>
<text x="371.72" y="532.30" font-size="6.3" fill="#7f7f7f" text-anchor="middle" textLength="6.4" lengthAdjust="spacingAndGlyphs">52</text>
<text x="392.83" y="532.30" font-size="6.3" fill="#7f7f7f" text-anchor="middle" textLength="6.4" lengthAdjust="spacingAndGlyphs">60</text>
<text x="413.94" y="532.30" font-size="6.3" fill="#7f7f7f" text-anchor="middle" textLength="6.4" lengthAdjust="spacingAndGlyphs">68</text>
<text transform="translate(221.50,485.70) rotate(-90)" x="0" y="0" font-size="6.5" fill="#7f7f7f" text-anchor="middle" textLength="36.9" lengthAdjust="spacingAndGlyphs" stroke="#7f7f7f" stroke-width="0.12">Footslips (#)</text>
<text x="311.70" y="543.10" font-size="6.5" fill="#7f7f7f" textLength="35.5" lengthAdjust="spacingAndGlyphs" stroke="#7f7f7f" stroke-width="0.12">Age (weeks)</text>
<text x="277.80" y="437.50" font-size="9.7" fill="#595959" textLength="82.8" lengthAdjust="spacingAndGlyphs" stroke="#595959" stroke-width="0.22">Number of footslips</text>
<text x="235.20" y="433.70" font-size="10" fill="#000" font-weight="bold">h</text>
<circle cx="302.90" cy="551.00" r="1.55" fill="#7f7f7f" stroke="#262626" stroke-width="1.1"/>
<text x="305.80" y="553.10" font-size="5.5" fill="#595959" textLength="9.4" lengthAdjust="spacingAndGlyphs" stroke="#595959" stroke-width="0.12">WT</text>
<rect x="320.20" y="549.00" width="4.0" height="4.0" fill="#000"/>
<text x="325.50" y="553.10" font-size="5.5" fill="#595959" textLength="43.5" lengthAdjust="spacingAndGlyphs" stroke="#595959" stroke-width="0.12">Capn3-deficient</text>
<line x1="329.50" y1="507.55" x2="329.50" y2="522.21" stroke="#595959" stroke-width="0.7"/>
<line x1="327.90" y1="507.55" x2="331.10" y2="507.55" stroke="#595959" stroke-width="0.7"/>
<line x1="327.90" y1="522.21" x2="331.10" y2="522.21" stroke="#595959" stroke-width="0.7"/>
<line x1="350.61" y1="499.04" x2="350.61" y2="522.50" stroke="#595959" stroke-width="0.7"/>
<line x1="349.01" y1="499.04" x2="352.21" y2="499.04" stroke="#595959" stroke-width="0.7"/>
<line x1="349.01" y1="522.50" x2="352.21" y2="522.50" stroke="#595959" stroke-width="0.7"/>
<line x1="371.72" y1="514.44" x2="371.72" y2="522.50" stroke="#595959" stroke-width="0.7"/>
<line x1="370.12" y1="514.44" x2="373.32" y2="514.44" stroke="#595959" stroke-width="0.7"/>
<line x1="370.12" y1="522.50" x2="373.32" y2="522.50" stroke="#595959" stroke-width="0.7"/>
<line x1="392.83" y1="506.08" x2="392.83" y2="522.50" stroke="#595959" stroke-width="0.7"/>
<line x1="391.23" y1="506.08" x2="394.43" y2="506.08" stroke="#595959" stroke-width="0.7"/>
<line x1="391.23" y1="522.50" x2="394.43" y2="522.50" stroke="#595959" stroke-width="0.7"/>
<line x1="413.94" y1="512.97" x2="413.94" y2="522.50" stroke="#595959" stroke-width="0.7"/>
<line x1="412.34" y1="512.97" x2="415.54" y2="512.97" stroke="#595959" stroke-width="0.7"/>
<line x1="412.34" y1="522.50" x2="415.54" y2="522.50" stroke="#595959" stroke-width="0.7"/>
<line x1="245.06" y1="499.04" x2="245.06" y2="522.50" stroke="#595959" stroke-width="0.7"/>
<line x1="243.46" y1="499.04" x2="246.66" y2="499.04" stroke="#595959" stroke-width="0.7"/>
<line x1="243.46" y1="522.50" x2="246.66" y2="522.50" stroke="#595959" stroke-width="0.7"/>
<line x1="266.17" y1="512.53" x2="266.17" y2="522.50" stroke="#595959" stroke-width="0.7"/>
<line x1="264.57" y1="512.53" x2="267.77" y2="512.53" stroke="#595959" stroke-width="0.7"/>
<line x1="264.57" y1="522.50" x2="267.77" y2="522.50" stroke="#595959" stroke-width="0.7"/>
<line x1="287.28" y1="512.68" x2="287.28" y2="522.50" stroke="#595959" stroke-width="0.7"/>
<line x1="285.68" y1="512.68" x2="288.88" y2="512.68" stroke="#595959" stroke-width="0.7"/>
<line x1="285.68" y1="522.50" x2="288.88" y2="522.50" stroke="#595959" stroke-width="0.7"/>
<line x1="329.50" y1="514.29" x2="329.50" y2="522.50" stroke="#595959" stroke-width="0.7"/>
<line x1="327.90" y1="514.29" x2="331.10" y2="514.29" stroke="#595959" stroke-width="0.7"/>
<line x1="327.90" y1="522.50" x2="331.10" y2="522.50" stroke="#595959" stroke-width="0.7"/>
<line x1="350.61" y1="514.73" x2="350.61" y2="522.50" stroke="#595959" stroke-width="0.7"/>
<line x1="349.01" y1="514.73" x2="352.21" y2="514.73" stroke="#595959" stroke-width="0.7"/>
<line x1="349.01" y1="522.50" x2="352.21" y2="522.50" stroke="#595959" stroke-width="0.7"/>
<line x1="371.72" y1="507.84" x2="371.72" y2="521.91" stroke="#595959" stroke-width="0.7"/>
<line x1="370.12" y1="507.84" x2="373.32" y2="507.84" stroke="#595959" stroke-width="0.7"/>
<line x1="370.12" y1="521.91" x2="373.32" y2="521.91" stroke="#595959" stroke-width="0.7"/>
<line x1="392.83" y1="505.79" x2="392.83" y2="520.45" stroke="#595959" stroke-width="0.7"/>
<line x1="391.23" y1="505.79" x2="394.43" y2="505.79" stroke="#595959" stroke-width="0.7"/>
<line x1="391.23" y1="520.45" x2="394.43" y2="520.45" stroke="#595959" stroke-width="0.7"/>
<circle cx="245.06" cy="522.50" r="1.72" fill="#7a7a7a" stroke="#333" stroke-width="0.95"/>
<circle cx="266.17" cy="522.50" r="1.72" fill="#7a7a7a" stroke="#333" stroke-width="0.95"/>
<circle cx="287.28" cy="522.50" r="1.72" fill="#7a7a7a" stroke="#333" stroke-width="0.95"/>
<circle cx="308.39" cy="522.50" r="1.72" fill="#7a7a7a" stroke="#333" stroke-width="0.95"/>
<circle cx="329.50" cy="514.88" r="1.72" fill="#7a7a7a" stroke="#333" stroke-width="0.95"/>
<circle cx="350.61" cy="511.65" r="1.72" fill="#7a7a7a" stroke="#333" stroke-width="0.95"/>
<circle cx="371.72" cy="518.84" r="1.72" fill="#7a7a7a" stroke="#333" stroke-width="0.95"/>
<circle cx="392.83" cy="514.88" r="1.72" fill="#7a7a7a" stroke="#333" stroke-width="0.95"/>
<circle cx="413.94" cy="518.84" r="1.72" fill="#7a7a7a" stroke="#333" stroke-width="0.95"/>
<rect x="243.06" y="509.50" width="4.0" height="4.0" fill="#000"/>
<rect x="264.17" y="517.13" width="4.0" height="4.0" fill="#000"/>
<rect x="285.28" y="517.13" width="4.0" height="4.0" fill="#000"/>
<rect x="306.39" y="520.50" width="4.0" height="4.0" fill="#000"/>
<rect x="327.50" y="516.69" width="4.0" height="4.0" fill="#000"/>
<rect x="348.61" y="517.13" width="4.0" height="4.0" fill="#000"/>
<rect x="369.72" y="512.88" width="4.0" height="4.0" fill="#000"/>
<rect x="390.83" y="511.12" width="4.0" height="4.0" fill="#000"/>
<rect x="411.94" y="520.50" width="4.0" height="4.0" fill="#000"/>
<line x1="24.50" y1="577.60" x2="24.50" y2="651.50" stroke="#404040" stroke-width="1.0"/>
<line x1="24.00" y1="651.00" x2="208.30" y2="651.00" stroke="#999999" stroke-width="2.0"/>
<line x1="22.40" y1="651.00" x2="24.50" y2="651.00" stroke="#404040" stroke-width="0.9"/>
<text x="19.20" y="653.00" font-size="6.2" fill="#7f7f7f" text-anchor="end" textLength="3.4" lengthAdjust="spacingAndGlyphs">0</text>
<line x1="22.40" y1="636.42" x2="24.50" y2="636.42" stroke="#404040" stroke-width="0.9"/>
<text x="19.20" y="638.42" font-size="6.2" fill="#7f7f7f" text-anchor="end" textLength="6.9" lengthAdjust="spacingAndGlyphs">50</text>
<line x1="22.40" y1="621.84" x2="24.50" y2="621.84" stroke="#404040" stroke-width="0.9"/>
<text x="19.20" y="623.84" font-size="6.2" fill="#7f7f7f" text-anchor="end" textLength="9.8" lengthAdjust="spacingAndGlyphs">100</text>
<line x1="22.40" y1="607.26" x2="24.50" y2="607.26" stroke="#404040" stroke-width="0.9"/>
<text x="19.20" y="609.26" font-size="6.2" fill="#7f7f7f" text-anchor="end" textLength="9.8" lengthAdjust="spacingAndGlyphs">150</text>
<line x1="22.40" y1="592.68" x2="24.50" y2="592.68" stroke="#404040" stroke-width="0.9"/>
<text x="19.20" y="594.68" font-size="6.2" fill="#7f7f7f" text-anchor="end" textLength="10.3" lengthAdjust="spacingAndGlyphs">200</text>
<line x1="22.40" y1="578.10" x2="24.50" y2="578.10" stroke="#404040" stroke-width="0.9"/>
<text x="19.20" y="580.10" font-size="6.2" fill="#7f7f7f" text-anchor="end" textLength="10.3" lengthAdjust="spacingAndGlyphs">250</text>
<text x="34.71" y="661.30" font-size="6.2" fill="#7f7f7f" text-anchor="middle" textLength="3.4" lengthAdjust="spacingAndGlyphs">6</text>
<text x="55.13" y="661.30" font-size="6.2" fill="#7f7f7f" text-anchor="middle" textLength="6.4" lengthAdjust="spacingAndGlyphs">12</text>
<text x="75.56" y="661.30" font-size="6.2" fill="#7f7f7f" text-anchor="middle" textLength="6.9" lengthAdjust="spacingAndGlyphs">20</text>
<text x="95.98" y="661.30" font-size="6.2" fill="#7f7f7f" text-anchor="middle" textLength="6.9" lengthAdjust="spacingAndGlyphs">28</text>
<text x="116.40" y="661.30" font-size="6.2" fill="#7f7f7f" text-anchor="middle" textLength="6.9" lengthAdjust="spacingAndGlyphs">36</text>
<text x="136.82" y="661.30" font-size="6.2" fill="#7f7f7f" text-anchor="middle" textLength="6.9" lengthAdjust="spacingAndGlyphs">44</text>
<text x="157.24" y="661.30" font-size="6.2" fill="#7f7f7f" text-anchor="middle" textLength="6.9" lengthAdjust="spacingAndGlyphs">52</text>
<text x="177.67" y="661.30" font-size="6.2" fill="#7f7f7f" text-anchor="middle" textLength="6.9" lengthAdjust="spacingAndGlyphs">60</text>
<text x="198.09" y="661.30" font-size="6.2" fill="#7f7f7f" text-anchor="middle" textLength="6.9" lengthAdjust="spacingAndGlyphs">68</text>
<text transform="translate(5.80,614.00) rotate(-90)" x="0" y="0" font-size="6.5" fill="#7f7f7f" text-anchor="middle" textLength="50.0" lengthAdjust="spacingAndGlyphs" stroke="#7f7f7f" stroke-width="0.12">Latency to fall (s)</text>
<text x="98.70" y="671.30" font-size="6.5" fill="#7f7f7f" textLength="35.3" lengthAdjust="spacingAndGlyphs" stroke="#7f7f7f" stroke-width="0.12">Age (weeks)</text>
<text x="66.60" y="566.80" font-size="9.7" fill="#595959" textLength="71.8" lengthAdjust="spacingAndGlyphs" stroke="#595959" stroke-width="0.22">Wire hanging test</text>
<text x="8.10" y="563.00" font-size="9.6" fill="#000" font-weight="bold">i</text>
<circle cx="84.00" cy="681.50" r="1.6" fill="#fff" stroke="#333" stroke-width="1.2"/>
<text x="86.80" y="684.00" font-size="6.2" fill="#595959" textLength="9.4" lengthAdjust="spacingAndGlyphs" stroke="#595959" stroke-width="0.12">WT</text>
<rect x="101.50" y="679.80" width="3.4" height="3.4" rx="0.3" fill="#9a9a9a" stroke="#333" stroke-width="1.0"/>
<text x="106.60" y="684.00" font-size="6.2" fill="#595959" textLength="44.4" lengthAdjust="spacingAndGlyphs" stroke="#595959" stroke-width="0.12">Capn3-deficient</text>
<line x1="157.24" y1="597.05" x2="157.24" y2="602.89" stroke="#595959" stroke-width="0.7"/>
<line x1="155.64" y1="597.05" x2="158.84" y2="597.05" stroke="#595959" stroke-width="0.7"/>
<line x1="155.64" y1="602.89" x2="158.84" y2="602.89" stroke="#595959" stroke-width="0.7"/>
<line x1="177.67" y1="595.89" x2="177.67" y2="613.97" stroke="#595959" stroke-width="0.7"/>
<line x1="176.07" y1="595.89" x2="179.27" y2="595.89" stroke="#595959" stroke-width="0.7"/>
<line x1="176.07" y1="613.97" x2="179.27" y2="613.97" stroke="#595959" stroke-width="0.7"/>
<line x1="198.09" y1="593.85" x2="198.09" y2="622.71" stroke="#595959" stroke-width="0.7"/>
<line x1="196.49" y1="593.85" x2="199.69" y2="593.85" stroke="#595959" stroke-width="0.7"/>
<line x1="196.49" y1="622.71" x2="199.69" y2="622.71" stroke="#595959" stroke-width="0.7"/>
<line x1="198.09" y1="598.66" x2="198.09" y2="613.12" stroke="#595959" stroke-width="0.7"/>
<line x1="196.49" y1="598.66" x2="199.69" y2="598.66" stroke="#595959" stroke-width="0.7"/>
<line x1="196.49" y1="613.12" x2="199.69" y2="613.12" stroke="#595959" stroke-width="0.7"/>
<circle cx="34.71" cy="598.51" r="1.80" fill="#fff" stroke="#404040" stroke-width="0.9"/>
<circle cx="55.13" cy="598.51" r="1.80" fill="#fff" stroke="#404040" stroke-width="0.9"/>
<circle cx="75.56" cy="598.51" r="1.80" fill="#fff" stroke="#404040" stroke-width="0.9"/>
<circle cx="95.98" cy="598.51" r="1.80" fill="#fff" stroke="#404040" stroke-width="0.9"/>
<circle cx="116.40" cy="598.51" r="1.80" fill="#fff" stroke="#404040" stroke-width="0.9"/>
<circle cx="136.82" cy="598.51" r="1.80" fill="#fff" stroke="#404040" stroke-width="0.9"/>
<circle cx="157.24" cy="599.97" r="1.80" fill="#fff" stroke="#404040" stroke-width="0.9"/>
<circle cx="177.67" cy="604.93" r="1.80" fill="#fff" stroke="#404040" stroke-width="0.9"/>
<circle cx="198.09" cy="608.28" r="1.80" fill="#fff" stroke="#404040" stroke-width="0.9"/>
<rect x="32.91" y="596.71" width="3.60" height="3.60" fill="#a6a6a6" stroke="#404040" stroke-width="0.9"/>
<rect x="53.33" y="596.71" width="3.60" height="3.60" fill="#a6a6a6" stroke="#404040" stroke-width="0.9"/>
<rect x="73.76" y="596.71" width="3.60" height="3.60" fill="#a6a6a6" stroke="#404040" stroke-width="0.9"/>
<rect x="94.18" y="596.71" width="3.60" height="3.60" fill="#a6a6a6" stroke="#404040" stroke-width="0.9"/>
<rect x="114.60" y="596.71" width="3.60" height="3.60" fill="#a6a6a6" stroke="#404040" stroke-width="0.9"/>
<rect x="135.02" y="596.71" width="3.60" height="3.60" fill="#a6a6a6" stroke="#404040" stroke-width="0.9"/>
<rect x="155.44" y="596.13" width="3.60" height="3.60" fill="#a6a6a6" stroke="#404040" stroke-width="0.9"/>
<rect x="175.87" y="595.84" width="3.60" height="3.60" fill="#a6a6a6" stroke="#404040" stroke-width="0.9"/>
<rect x="196.29" y="604.09" width="3.60" height="3.60" fill="#a6a6a6" stroke="#404040" stroke-width="0.9"/>
<line x1="237.50" y1="577.90" x2="237.50" y2="652.00" stroke="#404040" stroke-width="1.0"/>
<line x1="237.00" y1="651.50" x2="421.50" y2="651.50" stroke="#404040" stroke-width="1.0"/>
<line x1="235.40" y1="651.50" x2="237.50" y2="651.50" stroke="#404040" stroke-width="0.9"/>
<text x="231.90" y="653.50" font-size="6.5" fill="#7f7f7f" text-anchor="end" textLength="3.4" lengthAdjust="spacingAndGlyphs">0</text>
<line x1="235.40" y1="636.88" x2="237.50" y2="636.88" stroke="#404040" stroke-width="0.9"/>
<text x="231.90" y="638.88" font-size="6.5" fill="#7f7f7f" text-anchor="end" textLength="6.9" lengthAdjust="spacingAndGlyphs">50</text>
<line x1="235.40" y1="622.26" x2="237.50" y2="622.26" stroke="#404040" stroke-width="0.9"/>
<text x="231.90" y="624.26" font-size="6.5" fill="#7f7f7f" text-anchor="end" textLength="9.8" lengthAdjust="spacingAndGlyphs">100</text>
<line x1="235.40" y1="607.64" x2="237.50" y2="607.64" stroke="#404040" stroke-width="0.9"/>
<text x="231.90" y="609.64" font-size="6.5" fill="#7f7f7f" text-anchor="end" textLength="9.8" lengthAdjust="spacingAndGlyphs">150</text>
<line x1="235.40" y1="593.02" x2="237.50" y2="593.02" stroke="#404040" stroke-width="0.9"/>
<text x="231.90" y="595.02" font-size="6.5" fill="#7f7f7f" text-anchor="end" textLength="10.3" lengthAdjust="spacingAndGlyphs">200</text>
<line x1="235.40" y1="578.40" x2="237.50" y2="578.40" stroke="#404040" stroke-width="0.9"/>
<text x="231.90" y="580.40" font-size="6.5" fill="#7f7f7f" text-anchor="end" textLength="10.3" lengthAdjust="spacingAndGlyphs">250</text>
<text x="247.72" y="661.80" font-size="6.5" fill="#7f7f7f" text-anchor="middle" textLength="3.4" lengthAdjust="spacingAndGlyphs">6</text>
<text x="268.17" y="661.80" font-size="6.5" fill="#7f7f7f" text-anchor="middle" textLength="6.4" lengthAdjust="spacingAndGlyphs">12</text>
<text x="288.61" y="661.80" font-size="6.5" fill="#7f7f7f" text-anchor="middle" textLength="6.9" lengthAdjust="spacingAndGlyphs">20</text>
<text x="309.06" y="661.80" font-size="6.5" fill="#7f7f7f" text-anchor="middle" textLength="6.9" lengthAdjust="spacingAndGlyphs">28</text>
<text x="329.50" y="661.80" font-size="6.5" fill="#7f7f7f" text-anchor="middle" textLength="6.9" lengthAdjust="spacingAndGlyphs">36</text>
<text x="349.94" y="661.80" font-size="6.5" fill="#7f7f7f" text-anchor="middle" textLength="6.9" lengthAdjust="spacingAndGlyphs">44</text>
<text x="370.39" y="661.80" font-size="6.5" fill="#7f7f7f" text-anchor="middle" textLength="6.9" lengthAdjust="spacingAndGlyphs">52</text>
<text x="390.83" y="661.80" font-size="6.5" fill="#7f7f7f" text-anchor="middle" textLength="6.9" lengthAdjust="spacingAndGlyphs">60</text>
<text x="411.28" y="661.80" font-size="6.5" fill="#7f7f7f" text-anchor="middle" textLength="6.9" lengthAdjust="spacingAndGlyphs">68</text>
<text transform="translate(218.40,614.50) rotate(-90)" x="0" y="0" font-size="6.5" fill="#7f7f7f" text-anchor="middle" textLength="50.2" lengthAdjust="spacingAndGlyphs" stroke="#7f7f7f" stroke-width="0.12">Latency to fall (s)</text>
<text x="311.60" y="672.20" font-size="6.5" fill="#7f7f7f" textLength="35.2" lengthAdjust="spacingAndGlyphs" stroke="#7f7f7f" stroke-width="0.12">Age (weeks)</text>
<text x="279.40" y="566.80" font-size="9.7" fill="#595959" textLength="72.2" lengthAdjust="spacingAndGlyphs" stroke="#595959" stroke-width="0.22">Wire hanging test</text>
<text x="233.20" y="563.00" font-size="9.3" fill="#000" font-weight="bold">j</text>
<circle cx="296.70" cy="681.80" r="1.55" fill="#7f7f7f" stroke="#262626" stroke-width="1.1"/>
<text x="300.10" y="683.90" font-size="5.5" fill="#595959" textLength="9.4" lengthAdjust="spacingAndGlyphs" stroke="#595959" stroke-width="0.12">WT</text>
<rect x="315.10" y="679.80" width="4.0" height="4.0" fill="#000"/>
<text x="321.60" y="683.90" font-size="5.5" fill="#595959" textLength="43.4" lengthAdjust="spacingAndGlyphs" stroke="#595959" stroke-width="0.12">Capn3-deficient</text>
<line x1="247.72" y1="595.94" x2="247.72" y2="609.98" stroke="#595959" stroke-width="0.7"/>
<line x1="246.12" y1="595.94" x2="249.32" y2="595.94" stroke="#595959" stroke-width="0.7"/>
<line x1="246.12" y1="609.98" x2="249.32" y2="609.98" stroke="#595959" stroke-width="0.7"/>
<line x1="288.61" y1="594.48" x2="288.61" y2="613.78" stroke="#595959" stroke-width="0.7"/>
<line x1="287.01" y1="594.48" x2="290.21" y2="594.48" stroke="#595959" stroke-width="0.7"/>
<line x1="287.01" y1="613.78" x2="290.21" y2="613.78" stroke="#595959" stroke-width="0.7"/>
<line x1="309.06" y1="600.62" x2="309.06" y2="606.47" stroke="#595959" stroke-width="0.7"/>
<line x1="307.46" y1="600.62" x2="310.66" y2="600.62" stroke="#595959" stroke-width="0.7"/>
<line x1="307.46" y1="606.47" x2="310.66" y2="606.47" stroke="#595959" stroke-width="0.7"/>
<line x1="329.50" y1="622.84" x2="329.50" y2="635.71" stroke="#595959" stroke-width="0.7"/>
<line x1="327.90" y1="622.84" x2="331.10" y2="622.84" stroke="#595959" stroke-width="0.7"/>
<line x1="327.90" y1="635.71" x2="331.10" y2="635.71" stroke="#595959" stroke-width="0.7"/>
<line x1="349.94" y1="628.40" x2="349.94" y2="643.61" stroke="#595959" stroke-width="0.7"/>
<line x1="348.34" y1="628.40" x2="351.54" y2="628.40" stroke="#595959" stroke-width="0.7"/>
<line x1="348.34" y1="643.61" x2="351.54" y2="643.61" stroke="#595959" stroke-width="0.7"/>
<line x1="370.39" y1="612.32" x2="370.39" y2="632.79" stroke="#595959" stroke-width="0.7"/>
<line x1="368.79" y1="612.32" x2="371.99" y2="612.32" stroke="#595959" stroke-width="0.7"/>
<line x1="368.79" y1="632.79" x2="371.99" y2="632.79" stroke="#595959" stroke-width="0.7"/>
<line x1="390.83" y1="617.87" x2="390.83" y2="631.32" stroke="#595959" stroke-width="0.7"/>
<line x1="389.23" y1="617.87" x2="392.43" y2="617.87" stroke="#595959" stroke-width="0.7"/>
<line x1="389.23" y1="631.32" x2="392.43" y2="631.32" stroke="#595959" stroke-width="0.7"/>
<line x1="411.28" y1="634.83" x2="411.28" y2="640.68" stroke="#595959" stroke-width="0.7"/>
<line x1="409.68" y1="634.83" x2="412.88" y2="634.83" stroke="#595959" stroke-width="0.7"/>
<line x1="409.68" y1="640.68" x2="412.88" y2="640.68" stroke="#595959" stroke-width="0.7"/>
<line x1="247.72" y1="595.07" x2="247.72" y2="602.67" stroke="#595959" stroke-width="0.7"/>
<line x1="246.12" y1="595.07" x2="249.32" y2="595.07" stroke="#595959" stroke-width="0.7"/>
<line x1="246.12" y1="602.67" x2="249.32" y2="602.67" stroke="#595959" stroke-width="0.7"/>
<line x1="288.61" y1="601.79" x2="288.61" y2="619.92" stroke="#595959" stroke-width="0.7"/>
<line x1="287.01" y1="601.79" x2="290.21" y2="601.79" stroke="#595959" stroke-width="0.7"/>
<line x1="287.01" y1="619.92" x2="290.21" y2="619.92" stroke="#595959" stroke-width="0.7"/>
<line x1="309.06" y1="594.77" x2="309.06" y2="612.32" stroke="#595959" stroke-width="0.7"/>
<line x1="307.46" y1="594.77" x2="310.66" y2="594.77" stroke="#595959" stroke-width="0.7"/>
<line x1="307.46" y1="612.32" x2="310.66" y2="612.32" stroke="#595959" stroke-width="0.7"/>
<line x1="329.50" y1="598.87" x2="329.50" y2="625.18" stroke="#595959" stroke-width="0.7"/>
<line x1="327.90" y1="598.87" x2="331.10" y2="598.87" stroke="#595959" stroke-width="0.7"/>
<line x1="327.90" y1="625.18" x2="331.10" y2="625.18" stroke="#595959" stroke-width="0.7"/>
<line x1="349.94" y1="603.25" x2="349.94" y2="626.06" stroke="#595959" stroke-width="0.7"/>
<line x1="348.34" y1="603.25" x2="351.54" y2="603.25" stroke="#595959" stroke-width="0.7"/>
<line x1="348.34" y1="626.06" x2="351.54" y2="626.06" stroke="#595959" stroke-width="0.7"/>
<line x1="370.39" y1="607.06" x2="370.39" y2="633.37" stroke="#595959" stroke-width="0.7"/>
<line x1="368.79" y1="607.06" x2="371.99" y2="607.06" stroke="#595959" stroke-width="0.7"/>
<line x1="368.79" y1="633.37" x2="371.99" y2="633.37" stroke="#595959" stroke-width="0.7"/>
<line x1="390.83" y1="609.69" x2="390.83" y2="625.48" stroke="#595959" stroke-width="0.7"/>
<line x1="389.23" y1="609.69" x2="392.43" y2="609.69" stroke="#595959" stroke-width="0.7"/>
<line x1="389.23" y1="625.48" x2="392.43" y2="625.48" stroke="#595959" stroke-width="0.7"/>
<line x1="411.28" y1="626.65" x2="411.28" y2="640.10" stroke="#595959" stroke-width="0.7"/>
<line x1="409.68" y1="626.65" x2="412.88" y2="626.65" stroke="#595959" stroke-width="0.7"/>
<line x1="409.68" y1="640.10" x2="412.88" y2="640.10" stroke="#595959" stroke-width="0.7"/>
<circle cx="247.72" cy="602.96" r="1.72" fill="#7a7a7a" stroke="#333" stroke-width="0.95"/>
<circle cx="268.17" cy="598.87" r="1.72" fill="#7a7a7a" stroke="#333" stroke-width="0.95"/>
<circle cx="288.61" cy="604.13" r="1.72" fill="#7a7a7a" stroke="#333" stroke-width="0.95"/>
<circle cx="309.06" cy="603.55" r="1.72" fill="#7a7a7a" stroke="#333" stroke-width="0.95"/>
<circle cx="329.50" cy="629.28" r="1.72" fill="#7a7a7a" stroke="#333" stroke-width="0.95"/>
<circle cx="349.94" cy="636.00" r="1.72" fill="#7a7a7a" stroke="#333" stroke-width="0.95"/>
<circle cx="370.39" cy="622.55" r="1.72" fill="#7a7a7a" stroke="#333" stroke-width="0.95"/>
<circle cx="390.83" cy="624.60" r="1.72" fill="#7a7a7a" stroke="#333" stroke-width="0.95"/>
<circle cx="411.28" cy="637.76" r="1.72" fill="#7a7a7a" stroke="#333" stroke-width="0.95"/>
<rect x="245.72" y="596.87" width="4.0" height="4.0" fill="#000"/>
<rect x="266.17" y="596.87" width="4.0" height="4.0" fill="#000"/>
<rect x="286.61" y="608.86" width="4.0" height="4.0" fill="#000"/>
<rect x="307.06" y="601.55" width="4.0" height="4.0" fill="#000"/>
<rect x="327.50" y="610.03" width="4.0" height="4.0" fill="#000"/>
<rect x="347.94" y="612.66" width="4.0" height="4.0" fill="#000"/>
<rect x="368.39" y="618.21" width="4.0" height="4.0" fill="#000"/>
<rect x="388.83" y="615.58" width="4.0" height="4.0" fill="#000"/>
<rect x="409.28" y="631.37" width="4.0" height="4.0" fill="#000"/>
<text x="350.10" y="590.70" font-size="8.5" fill="#1a1a1a" text-anchor="middle" font-weight="bold">*</text>
<text x="92.30" y="7.20" font-size="9.8" fill="#000" font-weight="bold" textLength="35.8" lengthAdjust="spacingAndGlyphs">Female</text>
<text x="292.70" y="7.30" font-size="9.8" fill="#000" font-weight="bold" textLength="23.3" lengthAdjust="spacingAndGlyphs">Male</text>
</svg>
</body></html>
